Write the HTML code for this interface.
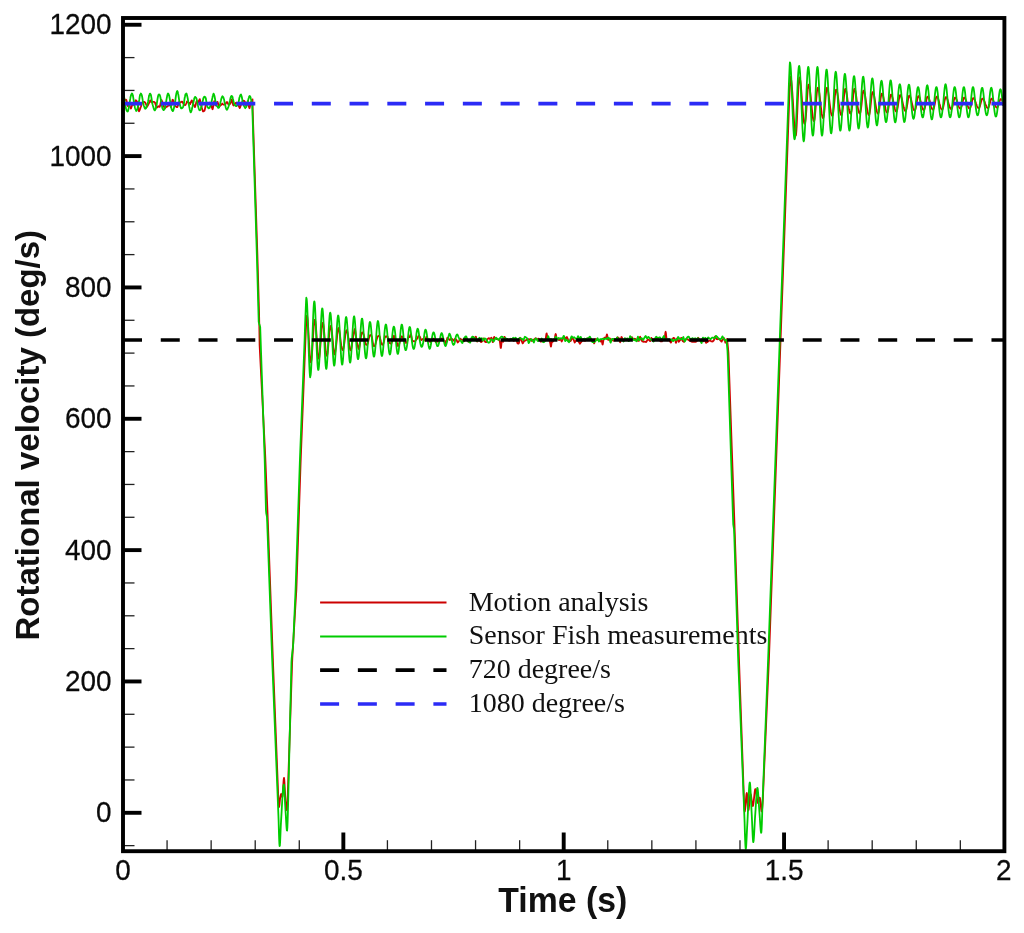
<!DOCTYPE html>
<html lang="en">
<head>
<meta charset="utf-8">
<title>Rotational velocity vs time</title>
<style>
html,body{margin:0;padding:0;background:#fff;}
body{width:1024px;height:933px;overflow:hidden;}
svg{display:block;}
.tl{font-family:"Liberation Sans",Arial,Helvetica,sans-serif;font-size:27.9px;fill:#0a0a0a;stroke:#0a0a0a;stroke-width:0.25px;}
.ax{font-family:"Liberation Sans",Arial,Helvetica,sans-serif;font-weight:bold;font-size:33px;fill:#111;}
.lg{font-family:"Liberation Serif","Times New Roman",Times,serif;font-size:28px;fill:#111;}
</style>
</head>
<body>
<svg width="1024" height="933" viewBox="0 0 1024 933">
<rect x="0" y="0" width="1024" height="933" fill="#ffffff"/>
<!-- legend -->
<g>
<line x1="320.1" y1="602.4" x2="446.5" y2="602.4" stroke="#cc0000" stroke-width="2"/>
<line x1="320.1" y1="636.6" x2="446.5" y2="636.6" stroke="#00cc00" stroke-width="2"/>
<line x1="320.1" y1="670.2" x2="446.5" y2="670.2" stroke="#000" stroke-width="3.7" stroke-dasharray="19 18.76"/>
<line x1="320.1" y1="704.0" x2="446.5" y2="704.0" stroke="#2b2bf6" stroke-width="3.7" stroke-dasharray="19 18.76"/>
<text x="468.7" y="610.8" class="lg">Motion analysis</text>
<text x="468.7" y="644.4" class="lg">Sensor Fish measurements</text>
<text x="468.7" y="678.4" class="lg">720 degree/s</text>
<text x="468.7" y="711.8" class="lg">1080 degree/s</text>
</g>
<!-- data -->
<path d="M123.00,103.46 L123.25,103.00 L123.50,102.51 L123.75,101.99 L124.00,101.45 L124.25,100.89 L124.50,100.33 L124.75,100.02 L125.00,99.88 L125.25,99.77 L125.50,99.69 L125.75,99.64 L126.00,99.64 L126.25,99.85 L126.50,100.74 L126.75,101.69 L127.00,102.70 L127.25,103.75 L127.50,104.85 L127.75,106.00 L128.00,106.01 L128.25,105.76 L128.50,105.54 L128.75,105.33 L129.00,105.12 L129.25,104.91 L129.50,105.05 L129.75,105.72 L130.00,106.36 L130.25,106.96 L130.50,107.52 L130.75,108.03 L131.00,108.48 L131.25,107.80 L131.50,107.06 L131.75,106.27 L132.00,105.43 L132.25,104.55 L132.50,103.63 L132.75,103.44 L133.00,103.75 L133.25,104.05 L133.50,104.33 L133.75,104.62 L134.00,104.93 L134.25,105.00 L134.50,104.10 L134.75,103.24 L135.00,102.42 L135.25,101.65 L135.50,100.94 L135.75,100.27 L136.00,100.33 L136.25,100.61 L136.50,100.94 L136.75,101.31 L137.00,101.72 L137.25,102.17 L137.50,103.02 L137.75,104.43 L138.00,105.86 L138.25,107.29 L138.50,108.70 L138.75,110.09 L139.00,111.46 L139.25,110.95 L139.50,110.40 L139.75,109.80 L140.00,109.15 L140.25,108.45 L140.50,107.69 L140.75,107.00 L141.00,106.33 L141.25,105.61 L141.50,104.86 L141.75,104.07 L142.00,103.25 L142.25,102.56 L142.50,102.42 L142.75,102.29 L143.00,102.16 L143.25,102.05 L143.50,101.97 L143.75,101.93 L144.00,101.92 L144.25,101.96 L144.50,102.05 L144.75,102.19 L145.00,102.39 L145.25,102.64 L145.50,103.02 L145.75,103.57 L146.00,104.16 L146.25,104.78 L146.50,105.44 L146.75,106.11 L147.00,106.79 L147.25,106.38 L147.50,105.97 L147.75,105.54 L148.00,105.08 L148.25,104.59 L148.50,104.06 L148.75,103.60 L149.00,103.16 L149.25,102.67 L149.50,102.12 L149.75,101.53 L150.00,100.88 L150.25,100.41 L150.50,100.82 L150.75,101.19 L151.00,101.53 L151.25,101.85 L151.50,102.16 L151.75,102.46 L152.00,102.38 L152.25,102.22 L152.50,102.08 L152.75,101.97 L153.00,101.90 L153.25,101.88 L153.50,101.87 L153.75,101.86 L154.00,101.91 L154.25,102.01 L154.50,102.17 L154.75,102.37 L155.00,102.61 L155.25,103.36 L155.50,104.15 L155.75,104.95 L156.00,105.77 L156.25,106.59 L156.50,107.40 L156.75,107.64 L157.00,107.49 L157.25,107.31 L157.50,107.08 L157.75,106.81 L158.00,106.50 L158.25,106.25 L158.50,106.46 L158.75,106.62 L159.00,106.72 L159.25,106.78 L159.50,106.79 L159.75,106.76 L160.00,105.88 L160.25,104.78 L160.50,103.67 L160.75,102.55 L161.00,101.44 L161.25,100.34 L161.50,99.91 L161.75,100.50 L162.00,101.13 L162.25,101.80 L162.50,102.52 L162.75,103.29 L163.00,104.11 L163.25,104.68 L163.50,105.29 L163.75,105.96 L164.00,106.67 L164.25,107.42 L164.50,108.21 L164.75,108.37 L165.00,108.11 L165.25,107.87 L165.50,107.62 L165.75,107.35 L166.00,107.07 L166.25,106.83 L166.50,106.82 L166.75,106.77 L167.00,106.67 L167.25,106.51 L167.50,106.31 L167.75,106.05 L168.00,105.88 L168.25,105.70 L168.50,105.47 L168.75,105.20 L169.00,104.90 L169.25,104.57 L169.50,104.52 L169.75,104.89 L170.00,105.27 L170.25,105.66 L170.50,106.07 L170.75,106.51 L171.00,106.99 L171.25,105.67 L171.50,104.40 L171.75,103.18 L172.00,102.01 L172.25,100.90 L172.50,99.84 L172.75,99.72 L173.00,100.25 L173.25,100.81 L173.50,101.41 L173.75,102.04 L174.00,102.69 L174.25,103.32 L174.50,103.87 L174.75,104.41 L175.00,104.94 L175.25,105.43 L175.50,105.89 L175.75,106.31 L176.00,106.59 L176.25,106.79 L176.50,106.94 L176.75,107.04 L177.00,107.08 L177.25,107.07 L177.50,106.77 L177.75,106.05 L178.00,105.30 L178.25,104.52 L178.50,103.73 L178.75,102.92 L179.00,102.11 L179.25,102.12 L179.50,102.15 L179.75,102.20 L180.00,102.29 L180.25,102.42 L180.50,102.60 L180.75,102.48 L181.00,102.20 L181.25,101.97 L181.50,101.79 L181.75,101.67 L182.00,101.59 L182.25,101.64 L182.50,102.05 L182.75,102.50 L183.00,102.96 L183.25,103.44 L183.50,103.92 L183.75,104.39 L184.00,104.63 L184.25,104.78 L184.50,104.91 L184.75,104.99 L185.00,105.03 L185.25,105.02 L185.50,104.83 L185.75,104.40 L186.00,103.91 L186.25,103.37 L186.50,102.78 L186.75,102.15 L187.00,101.48 L187.25,101.68 L187.50,101.86 L187.75,102.02 L188.00,102.18 L188.25,102.35 L188.50,102.53 L188.75,102.68 L189.00,102.83 L189.25,103.01 L189.50,103.23 L189.75,103.51 L190.00,103.84 L190.25,103.98 L190.50,103.26 L190.75,102.59 L191.00,101.97 L191.25,101.39 L191.50,100.85 L191.75,100.34 L192.00,100.72 L192.25,101.34 L192.50,101.95 L192.75,102.57 L193.00,103.17 L193.25,103.75 L193.50,104.32 L193.75,104.91 L194.00,105.45 L194.25,105.94 L194.50,106.38 L194.75,106.77 L195.00,107.11 L195.25,106.27 L195.50,105.39 L195.75,104.47 L196.00,103.50 L196.25,102.50 L196.50,101.48 L196.75,101.20 L197.00,101.42 L197.25,101.64 L197.50,101.87 L197.75,102.13 L198.00,102.41 L198.25,102.52 L198.50,101.83 L198.75,101.19 L199.00,100.59 L199.25,100.06 L199.50,99.57 L199.75,99.14 L200.00,99.92 L200.25,101.03 L200.50,102.19 L200.75,103.38 L201.00,104.59 L201.25,105.82 L201.50,106.88 L201.75,107.69 L202.00,108.48 L202.25,109.26 L202.50,110.01 L202.75,110.72 L203.00,111.39 L203.25,111.39 L203.50,111.34 L203.75,111.24 L204.00,111.08 L204.25,110.88 L204.50,110.62 L204.75,109.82 L205.00,108.65 L205.25,107.45 L205.50,106.22 L205.75,104.97 L206.00,103.72 L206.25,102.73 L206.50,102.83 L206.75,102.96 L207.00,103.11 L207.25,103.29 L207.50,103.52 L207.75,103.79 L208.00,103.58 L208.25,103.29 L208.50,103.06 L208.75,102.87 L209.00,102.74 L209.25,102.66 L209.50,102.71 L209.75,102.96 L210.00,103.23 L210.25,103.52 L210.50,103.83 L210.75,104.13 L211.00,104.42 L211.25,105.32 L211.50,106.19 L211.75,107.02 L212.00,107.82 L212.25,108.56 L212.50,109.26 L212.75,108.82 L213.00,107.59 L213.25,106.31 L213.50,104.98 L213.75,103.60 L214.00,102.18 L214.25,101.16 L214.50,101.88 L214.75,102.59 L215.00,103.28 L215.25,103.97 L215.50,104.67 L215.75,105.38 L216.00,104.95 L216.25,104.25 L216.50,103.60 L216.75,102.98 L217.00,102.42 L217.25,101.91 L217.50,101.89 L217.75,102.57 L218.00,103.30 L218.25,104.08 L218.50,104.90 L218.75,105.76 L219.00,106.65 L219.25,106.43 L219.50,106.22 L219.75,106.02 L220.00,105.81 L220.25,105.58 L220.50,105.33 L220.75,105.14 L221.00,104.98 L221.25,104.77 L221.50,104.51 L221.75,104.20 L222.00,103.83 L222.25,103.56 L222.50,103.86 L222.75,104.10 L223.00,104.30 L223.25,104.46 L223.50,104.59 L223.75,104.70 L224.00,104.63 L224.25,104.51 L224.50,104.40 L224.75,104.30 L225.00,104.22 L225.25,104.17 L225.50,103.97 L225.75,103.52 L226.00,103.11 L226.25,102.76 L226.50,102.46 L226.75,102.21 L227.00,102.02 L227.25,102.36 L227.50,102.74 L227.75,103.17 L228.00,103.62 L228.25,104.11 L228.50,104.60 L228.75,104.73 L229.00,104.62 L229.25,104.48 L229.50,104.33 L229.75,104.15 L230.00,103.93 L230.25,103.62 L230.50,103.06 L230.75,102.44 L231.00,101.78 L231.25,101.06 L231.50,100.28 L231.75,99.46 L232.00,100.16 L232.25,101.21 L232.50,102.22 L232.75,103.22 L233.00,104.19 L233.25,105.16 L233.50,105.59 L233.75,105.21 L234.00,104.84 L234.25,104.51 L234.50,104.21 L234.75,103.95 L235.00,103.74 L235.25,103.44 L235.50,103.19 L235.75,102.99 L236.00,102.84 L236.25,102.75 L236.50,102.70 L236.75,102.81 L237.00,103.03 L237.25,103.28 L237.50,103.55 L237.75,103.83 L238.00,104.11 L238.25,104.46 L238.50,105.15 L238.75,105.81 L239.00,106.44 L239.25,107.03 L239.50,107.56 L239.75,108.05 L240.00,107.66 L240.25,107.00 L240.50,106.29 L240.75,105.53 L241.00,104.72 L241.25,103.88 L241.50,103.20 L241.75,102.82 L242.00,102.41 L242.25,102.00 L242.50,101.58 L242.75,101.17 L243.00,100.78 L243.25,100.74 L243.50,100.74 L243.75,100.77 L244.00,100.85 L244.25,100.98 L244.50,101.17 L244.75,101.62 L245.00,102.28 L245.25,102.98 L245.50,103.73 L245.75,104.53 L246.00,105.36 L246.25,105.88 L246.50,105.09 L246.75,104.32 L247.00,103.54 L247.25,102.76 L247.50,101.96 L247.75,101.13 L248.00,102.02 L248.25,103.29 L248.50,104.53 L248.75,105.71 L249.00,106.84 L249.25,107.92 L249.50,108.19 L249.75,107.31 L250.00,106.37 L250.25,105.39 L250.50,104.37 L250.75,103.32 L251.00,102.26 L251.25,101.75 L251.50,101.25 L251.75,100.75 L252.00,100.26 L252.25,99.80 L252.50,99.37 L252.60,107.56 L252.85,115.24 L253.10,122.92 L253.35,130.60 L253.60,138.28 L253.85,145.96 L254.10,153.64 L254.35,161.32 L254.60,169.00 L254.85,176.67 L255.10,184.35 L255.35,192.03 L255.60,199.71 L255.85,207.39 L256.10,215.07 L256.35,222.75 L256.60,230.43 L256.85,238.11 L257.10,245.79 L257.35,253.46 L257.60,262.00 L257.85,270.75 L258.10,279.50 L258.35,288.25 L258.60,297.00 L258.85,305.75 L259.10,314.50 L259.35,328.13 L259.60,345.00 L259.85,349.91 L260.10,354.82 L260.35,359.73 L260.60,364.64 L260.85,369.55 L261.10,374.46 L261.35,379.38 L261.60,384.29 L261.85,389.20 L262.10,394.11 L262.35,399.02 L262.60,403.93 L262.85,408.84 L263.10,413.75 L263.35,418.66 L263.60,423.57 L263.85,428.48 L264.10,433.39 L264.35,438.30 L264.60,443.21 L264.85,448.13 L265.10,453.04 L265.35,458.75 L265.60,465.00 L265.85,471.25 L266.10,477.50 L266.35,483.75 L266.60,490.00 L266.85,496.25 L267.10,502.50 L267.35,508.75 L267.60,515.00 L267.85,521.84 L268.10,528.68 L268.35,535.52 L268.60,542.36 L268.85,549.20 L269.10,556.04 L269.35,562.88 L269.60,569.72 L269.85,576.56 L270.10,583.40 L270.35,590.24 L270.60,597.08 L270.85,603.92 L271.10,610.75 L271.35,617.59 L271.60,624.43 L271.85,631.27 L272.10,638.11 L272.35,644.95 L272.60,651.79 L272.85,658.63 L273.10,665.10 L273.35,671.47 L273.60,677.84 L273.85,684.22 L274.10,690.59 L274.35,696.96 L274.60,703.33 L274.85,709.71 L275.10,716.08 L275.35,722.45 L275.60,728.82 L275.85,735.20 L276.10,741.57 L276.35,747.94 L276.60,754.31 L276.85,760.69 L277.10,767.06 L277.35,773.43 L277.60,779.80 L277.85,786.18 L278.00,790.00 L278.25,796.61 L278.50,802.02 L278.75,805.66 L279.00,807.00 L279.25,806.20 L279.50,804.24 L279.75,801.76 L280.00,799.38 L280.25,797.74 L280.50,796.38 L280.75,795.13 L281.00,794.25 L281.25,794.02 L281.50,794.55 L281.75,795.50 L282.00,796.45 L282.25,796.98 L282.50,796.27 L282.75,793.71 L283.00,789.99 L283.25,785.83 L283.50,781.96 L283.75,779.11 L284.00,778.00 L284.25,779.48 L284.50,783.18 L284.75,788.00 L285.00,792.84 L285.25,796.67 L285.50,800.40 L285.75,804.25 L286.00,807.54 L286.25,809.61 L286.50,809.94 L286.75,809.27 L287.00,807.75 L287.25,805.28 L287.50,801.74 L287.60,800.00 L287.85,792.39 L288.10,784.78 L288.35,777.17 L288.60,769.57 L288.85,761.96 L289.10,754.35 L289.35,746.74 L289.60,739.13 L289.85,731.52 L290.10,723.91 L290.35,716.30 L290.60,708.70 L290.85,701.09 L291.10,693.48 L291.35,685.87 L291.60,678.26 L291.85,670.65 L292.10,663.04 L292.35,657.46 L292.60,653.24 L292.85,649.01 L293.10,644.79 L293.35,640.56 L293.60,636.33 L293.85,632.11 L294.10,627.88 L294.35,623.65 L294.60,619.43 L294.85,615.20 L295.10,610.98 L295.35,606.75 L295.60,602.52 L295.85,598.30 L296.10,594.07 L296.35,589.85 L296.60,583.00 L296.85,575.50 L297.10,568.00 L297.35,560.50 L297.60,553.00 L297.85,545.50 L298.10,538.00 L298.35,530.50 L298.60,523.00 L298.85,515.50 L299.10,508.00 L299.35,500.50 L299.60,493.00 L299.85,485.50 L300.10,478.00 L300.35,470.50 L300.60,463.00 L300.85,456.20 L301.10,449.88 L301.35,443.55 L301.60,437.22 L301.85,430.90 L302.10,424.57 L302.35,418.24 L302.60,411.92 L302.85,405.59 L303.10,399.27 L303.35,392.94 L303.60,386.61 L303.85,380.29 L304.10,373.96 L304.35,367.63 L304.60,361.31 L304.85,354.98 L305.10,348.65 L305.35,342.33 L305.60,336.00 L305.85,330.05 L306.10,325.09 L306.35,321.33 L306.60,318.01 L306.85,316.07 L306.90,315.59 L307.15,316.23 L307.40,317.77 L307.65,320.15 L307.90,323.26 L308.15,326.99 L308.40,331.19 L308.65,335.68 L308.90,340.30 L309.15,344.87 L309.40,349.20 L309.65,353.11 L309.90,356.46 L310.15,359.14 L310.40,361.07 L310.65,362.17 L310.90,362.37 L311.15,361.65 L311.40,360.11 L311.65,357.80 L311.90,354.83 L312.15,351.34 L312.40,347.56 L312.65,343.51 L312.90,339.37 L313.15,335.30 L313.40,331.46 L313.65,327.96 L313.90,324.97 L314.15,322.59 L314.40,320.93 L314.65,320.02 L314.90,319.83 L315.15,320.40 L315.40,321.74 L315.65,323.76 L315.90,326.38 L316.15,329.58 L316.40,333.20 L316.65,337.04 L316.90,340.95 L317.15,344.79 L317.40,348.37 L317.65,351.54 L317.90,354.24 L318.15,356.35 L318.40,357.82 L318.65,358.57 L318.90,358.59 L319.15,357.89 L319.40,356.49 L319.65,354.46 L319.90,351.89 L320.15,348.91 L320.40,345.60 L320.65,342.11 L320.90,338.56 L321.15,335.10 L321.40,331.88 L321.65,329.02 L321.90,326.60 L322.15,324.73 L322.40,323.47 L322.65,322.84 L322.90,322.86 L323.15,323.54 L323.40,324.85 L323.65,326.74 L323.90,329.10 L324.15,331.83 L324.40,334.84 L324.65,338.02 L324.90,341.23 L325.15,344.36 L325.40,347.33 L325.65,349.97 L325.90,352.19 L326.15,353.91 L326.40,355.06 L326.65,355.74 L326.90,355.80 L327.15,355.26 L327.40,354.15 L327.65,352.52 L327.90,350.25 L328.15,347.58 L328.40,344.65 L328.65,341.58 L328.90,338.49 L329.15,335.59 L329.40,332.96 L329.65,330.65 L329.90,328.73 L330.15,327.29 L330.40,326.36 L330.65,325.97 L330.90,326.14 L331.15,326.87 L331.40,328.14 L331.65,329.85 L331.90,331.88 L332.15,334.22 L332.40,336.78 L332.65,339.46 L332.90,342.15 L333.15,345.02 L333.40,347.70 L333.65,350.10 L333.90,352.12 L334.15,353.70 L334.40,354.30 L334.65,354.25 L334.90,353.66 L335.15,352.56 L335.40,350.97 L335.65,349.33 L335.90,347.60 L336.15,345.58 L336.40,343.37 L336.65,341.07 L336.90,338.62 L337.15,336.03 L337.40,333.62 L337.65,331.49 L337.90,329.71 L338.15,328.44 L338.40,328.02 L338.65,328.08 L338.90,328.62 L339.15,329.64 L339.40,331.11 L339.65,332.60 L339.90,334.42 L340.15,336.50 L340.40,338.74 L340.65,341.06 L340.90,342.92 L341.15,344.55 L341.40,345.99 L341.65,347.16 L341.90,347.98 L342.15,348.89 L342.40,349.70 L342.65,350.06 L342.90,349.99 L343.15,349.49 L343.40,348.63 L343.65,347.50 L343.90,346.07 L344.15,344.42 L344.40,342.63 L344.65,340.72 L344.90,338.61 L345.15,336.60 L345.40,334.77 L345.65,333.19 L345.90,331.91 L346.15,330.96 L346.40,330.40 L346.65,330.25 L346.90,330.50 L347.15,331.14 L347.40,332.03 L347.65,333.22 L347.90,334.66 L348.15,336.31 L348.40,338.08 L348.65,340.06 L348.90,342.13 L349.15,344.10 L349.40,345.90 L349.65,347.46 L349.90,348.72 L350.15,349.59 L350.40,350.11 L350.65,350.26 L350.90,350.03 L351.15,349.40 L351.40,348.29 L351.65,346.87 L351.90,345.22 L352.15,343.39 L352.40,341.44 L352.65,339.86 L352.90,338.30 L353.15,336.85 L353.40,335.56 L353.65,334.50 L353.90,332.92 L354.15,331.44 L354.40,330.28 L354.65,329.47 L354.90,328.99 L355.15,329.69 L355.40,331.27 L355.65,333.12 L355.90,335.19 L356.15,337.43 L356.40,339.34 L356.65,340.63 L356.90,341.88 L357.15,343.03 L357.40,344.01 L357.65,344.97 L357.90,346.39 L358.15,347.52 L358.40,348.35 L358.65,348.87 L358.90,349.08 L359.15,348.19 L359.40,347.02 L359.65,345.62 L359.90,344.01 L360.15,342.27 L360.40,340.54 L360.65,338.82 L360.90,337.13 L361.15,335.54 L361.40,334.09 L361.65,333.15 L361.90,332.64 L362.15,332.41 L362.40,332.46 L362.65,332.80 L362.90,333.17 L363.15,333.40 L363.40,333.88 L363.65,334.57 L363.90,335.43 L364.15,336.48 L364.40,337.88 L364.65,339.30 L364.90,340.68 L365.15,341.97 L365.40,343.11 L365.65,343.89 L365.90,344.44 L366.15,344.74 L366.40,344.78 L366.65,344.55 L366.90,344.56 L367.15,344.45 L367.40,344.11 L367.65,343.58 L367.90,342.89 L368.15,341.92 L368.40,340.77 L368.65,339.61 L368.90,338.49 L369.15,337.46 L369.40,336.57 L369.65,335.85 L369.90,335.34 L370.15,335.06 L370.40,335.02 L370.65,335.13 L370.90,335.09 L371.15,335.29 L371.40,335.69 L371.65,336.27 L371.90,336.99 L372.15,338.48 L372.40,340.03 L372.65,341.57 L372.90,343.08 L373.15,344.50 L373.40,345.28 L373.65,345.76 L373.90,346.06 L374.15,346.14 L374.40,345.99 L374.65,345.78 L374.90,345.45 L375.15,344.91 L375.40,344.18 L375.65,343.29 L375.90,342.36 L376.15,341.49 L376.40,340.58 L376.65,339.66 L376.90,338.79 L377.15,337.99 L377.40,337.27 L377.65,336.71 L377.90,336.32 L378.15,336.14 L378.40,336.16 L378.65,335.84 L378.90,335.74 L379.15,335.82 L379.40,336.07 L379.65,336.47 L379.90,337.32 L380.15,338.34 L380.40,339.39 L380.65,340.43 L380.90,341.44 L381.15,342.35 L381.40,343.15 L381.65,343.81 L381.90,344.30 L382.15,344.61 L382.40,344.74 L382.65,344.71 L382.90,344.49 L383.15,344.09 L383.40,343.54 L383.65,342.79 L383.90,341.66 L384.15,340.46 L384.40,339.24 L384.65,338.02 L384.90,336.85 L385.15,336.59 L385.40,336.45 L385.65,336.44 L385.90,336.58 L386.15,336.89 L386.40,336.61 L386.65,336.31 L386.90,336.18 L387.15,336.21 L387.40,336.38 L387.65,337.07 L387.90,338.11 L388.15,339.20 L388.40,340.31 L388.65,341.42 L388.90,342.23 L389.15,342.60 L389.40,342.87 L389.65,343.00 L389.90,343.00 L390.15,342.98 L390.40,343.36 L390.65,343.58 L390.90,343.65 L391.15,343.57 L391.40,343.36 L391.65,342.72 L391.90,341.99 L392.15,341.22 L392.40,340.43 L392.65,339.66 L392.90,338.73 L393.15,337.82 L393.40,337.01 L393.65,336.32 L393.90,335.77 L394.15,335.92 L394.40,336.60 L394.65,337.43 L394.90,338.40 L395.15,339.51 L395.40,340.25 L395.65,340.39 L395.90,340.59 L396.15,340.84 L396.40,341.10 L396.65,341.52 L396.90,342.60 L397.15,343.62 L397.40,344.54 L397.65,345.36 L397.90,346.04 L398.15,345.96 L398.40,345.73 L398.65,345.37 L398.90,344.87 L399.15,344.25 L399.40,343.35 L399.65,342.31 L399.90,341.21 L400.15,340.08 L400.40,338.93 L400.65,338.13 L400.90,337.60 L401.15,337.12 L401.40,336.73 L401.65,336.45 L401.90,336.35 L402.15,336.46 L402.40,336.70 L402.65,337.06 L402.90,337.55 L403.15,338.08 L403.40,338.43 L403.65,338.85 L403.90,339.32 L404.15,339.83 L404.40,340.35 L404.65,340.95 L404.90,341.51 L405.15,342.01 L405.40,342.43 L405.65,342.75 L405.90,342.89 L406.15,342.90 L406.40,342.78 L406.65,342.56 L406.90,342.22 L407.15,341.57 L407.40,340.71 L407.65,339.77 L407.90,338.79 L408.15,337.79 L408.40,337.13 L408.65,337.03 L408.90,336.98 L409.15,336.98 L409.40,337.05 L409.65,337.01 L409.90,336.25 L410.15,335.59 L410.40,335.04 L410.65,334.60 L410.90,334.25 L411.15,335.32 L411.40,336.47 L411.65,337.68 L411.90,338.93 L412.15,340.20 L412.40,340.62 L412.65,340.81 L412.90,340.97 L413.15,341.06 L413.40,341.09 L413.65,341.22 L413.90,341.39 L414.15,341.46 L414.40,341.43 L414.65,341.30 L414.90,341.14 L415.15,340.98 L415.40,340.75 L415.65,340.46 L415.90,340.14 L416.15,339.80 L416.40,339.46 L416.65,339.13 L416.90,338.85 L417.15,338.61 L417.40,338.45 L417.65,337.73 L417.90,337.09 L418.15,336.55 L418.40,336.10 L418.65,335.73 L418.90,335.77 L419.15,335.97 L419.40,336.23 L419.65,336.54 L419.90,336.88 L420.15,337.40 L420.40,338.05 L420.65,338.67 L420.90,339.25 L421.15,339.79 L421.40,340.07 L421.65,339.99 L421.90,339.84 L422.15,339.59 L422.40,339.27 L422.65,338.98 L422.90,339.08 L423.15,339.12 L423.40,339.11 L423.65,339.05 L423.90,338.96 L424.15,339.28 L424.40,339.61 L424.65,339.96 L424.90,340.35 L425.15,340.78 L425.40,340.07 L425.65,339.12 L425.90,338.25 L426.15,337.46 L426.40,336.74 L426.65,336.86 L426.90,337.55 L427.15,338.29 L427.40,339.09 L427.65,339.93 L427.90,340.36 L428.15,340.16 L428.40,339.95 L428.65,339.72 L428.90,339.46 L429.15,339.36 L429.40,340.07 L429.65,340.71 L429.90,341.28 L430.15,341.78 L430.40,342.21 L430.65,341.91 L430.90,341.55 L431.15,341.13 L431.40,340.67 L431.65,340.17 L431.90,339.85 L432.15,339.58 L432.40,339.31 L432.65,339.06 L432.90,338.84 L433.15,338.73 L433.40,338.71 L433.65,338.75 L433.90,338.86 L434.15,339.03 L434.40,339.33 L434.65,339.79 L434.90,340.31 L435.15,340.87 L435.40,341.48 L435.65,341.96 L435.90,341.83 L436.15,341.70 L436.40,341.56 L436.65,341.41 L436.90,341.23 L437.15,341.43 L437.40,341.59 L437.65,341.69 L437.90,341.74 L438.15,341.72 L438.40,341.41 L438.65,340.98 L438.90,340.50 L439.15,339.97 L439.40,339.40 L439.65,339.27 L439.90,339.43 L440.15,339.58 L440.40,339.74 L440.65,339.92 L440.90,339.85 L441.15,339.41 L441.40,339.01 L441.65,338.66 L441.90,338.37 L442.15,338.24 L442.40,338.61 L442.65,339.03 L442.90,339.50 L443.15,340.01 L443.40,340.55 L443.65,340.55 L443.90,340.57 L444.15,340.59 L444.40,340.60 L444.65,340.59 L444.90,341.18 L445.15,341.87 L445.40,342.53 L445.65,343.14 L445.90,343.70 L446.15,343.26 L446.40,342.12 L446.65,340.94 L446.90,339.72 L447.15,338.46 L447.40,337.79 L447.65,338.04 L447.90,338.28 L448.15,338.52 L448.40,338.76 L448.65,338.99 L448.90,339.14 L449.15,339.31 L449.40,339.52 L449.65,339.78 L449.90,340.08 L450.15,339.74 L450.40,339.44 L450.65,339.19 L450.90,338.97 L451.15,338.79 L451.40,338.82 L451.65,338.91 L451.90,339.01 L452.15,339.12 L452.40,339.21 L452.65,339.45 L452.90,339.79 L453.15,340.09 L453.40,340.35 L453.65,340.58 L453.90,340.57 L454.15,340.23 L454.40,339.85 L454.65,339.44 L454.90,338.98 L455.15,338.65 L455.40,338.89 L455.65,339.12 L455.90,339.34 L456.15,339.56 L456.40,339.79 L456.65,340.28 L456.90,340.78 L457.15,341.32 L457.40,341.89 L457.65,342.49 L457.90,342.31 L458.15,341.95 L458.40,341.63 L458.65,341.35 L458.90,341.10 L459.15,340.72 L459.40,340.24 L459.65,339.78 L459.90,339.32 L460.15,338.87 L460.40,338.69 L460.65,338.93 L460.90,339.14 L461.15,339.33 L461.40,339.49 L461.65,339.63 L461.90,339.78 L462.15,339.89 L462.40,339.97 L462.65,340.02 L462.90,340.04 L463.15,340.30 L463.40,340.54 L463.65,340.78 L463.90,341.00 L464.15,341.23 L464.40,340.72 L464.65,340.04 L464.90,339.38 L465.15,338.74 L465.40,338.14 L465.65,337.90 L465.90,337.93 L466.15,337.99 L466.40,338.08 L466.65,338.20 L466.90,338.52 L467.15,339.11 L467.40,339.71 L467.65,340.33 L467.90,340.95 L468.15,341.47 L468.40,341.62 L468.65,341.76 L468.90,341.87 L469.15,341.97 L469.40,342.03 L469.65,341.71 L469.90,341.36 L470.15,340.98 L470.40,340.57 L470.65,340.13 L470.90,339.79 L471.15,339.45 L471.40,339.09 L471.65,338.73 L471.90,338.36 L472.15,338.05 L472.40,337.79 L472.65,337.53 L472.90,337.30 L473.15,337.09 L473.40,337.05 L473.65,337.26 L473.90,337.50 L474.15,337.77 L474.40,338.07 L474.65,338.25 L474.90,337.91 L475.15,337.58 L475.40,337.27 L475.65,336.97 L475.90,336.67 L476.15,337.66 L476.40,338.65 L476.65,339.63 L476.90,340.59 L477.15,341.52 L477.40,341.43 L477.65,341.06 L477.90,340.67 L478.15,340.24 L478.40,339.80 L478.65,339.76 L478.90,339.98 L479.15,340.20 L479.40,340.40 L479.65,340.59 L479.90,340.81 L480.15,341.09 L480.40,341.37 L480.65,341.66 L480.90,341.97 L481.15,342.18 L481.40,341.94 L481.65,341.71 L481.90,341.51 L482.15,341.34 L482.40,341.18 L482.65,340.58 L482.90,340.00 L483.15,339.43 L483.40,338.87 L483.65,338.32 L483.90,338.77 L484.15,339.47 L484.40,340.16 L484.65,340.84 L484.90,341.50 L485.15,341.85 L485.40,341.97 L485.65,342.07 L485.90,342.15 L486.15,342.21 L486.40,342.00 L486.65,341.38 L486.90,340.75 L487.15,340.11 L487.40,339.45 L487.65,338.89 L487.90,338.72 L488.15,338.56 L488.40,338.40 L488.65,338.25 L488.90,338.12 L489.15,338.31 L489.40,338.52 L489.65,338.74 L489.90,338.99 L490.15,339.26 L490.40,339.01 L490.65,338.64 L490.90,338.29 L491.15,337.94 L491.40,337.61 L491.65,338.07 L491.90,339.06 L492.15,340.04 L492.40,341.02 L492.65,341.98 L492.90,342.13 L493.15,341.06 L493.40,339.98 L493.65,338.87 L493.90,337.75 L494.15,336.90 L494.40,337.23 L494.65,337.55 L494.90,337.85 L495.15,338.15 L495.40,338.43 L495.65,338.58 L495.90,338.73 L496.15,338.88 L496.40,339.04 L496.65,339.21 L496.90,339.21 L497.15,339.18 L497.40,339.17 L497.65,339.17 L497.90,339.19 L498.15,339.28 L498.40,339.44 L498.65,339.61 L498.90,339.79 L499.15,340.01 L499.40,340.28 L499.65,340.76 L499.90,341.81 L500.15,343.65 L500.40,346.00 L500.65,347.81 L500.90,347.91 L501.15,346.30 L501.40,343.94 L501.65,341.93 L501.90,340.70 L502.15,340.61 L502.40,340.82 L502.65,341.12 L502.90,341.44 L503.15,341.76 L503.40,341.01 L503.65,339.98 L503.90,338.96 L504.15,337.94 L504.40,336.93 L504.65,336.86 L504.90,337.43 L505.15,338.02 L505.40,338.61 L505.65,339.22 L505.90,339.52 L506.15,339.34 L506.40,339.17 L506.65,339.01 L506.90,338.86 L507.15,338.81 L507.40,339.13 L507.65,339.45 L507.90,339.76 L508.15,340.07 L508.40,340.38 L508.65,340.46 L508.90,340.53 L509.15,340.58 L509.40,340.62 L509.65,340.65 L509.90,340.39 L510.15,340.04 L510.40,339.68 L510.65,339.30 L510.90,338.92 L511.15,338.78 L511.40,338.79 L511.65,338.80 L511.90,338.81 L512.15,338.83 L512.40,338.99 L512.65,339.35 L512.90,339.73 L513.15,340.11 L513.40,340.51 L513.65,340.82 L513.90,340.70 L514.15,340.59 L514.40,340.50 L514.65,340.41 L514.90,340.34 L515.15,340.10 L515.40,339.86 L515.65,339.62 L515.90,339.39 L516.15,339.15 L516.40,339.77 L516.65,340.59 L516.90,341.41 L517.15,342.22 L517.40,343.02 L517.65,343.38 L517.90,343.45 L518.15,343.50 L518.40,343.55 L518.65,343.59 L518.90,343.15 L519.15,342.01 L519.40,340.87 L519.65,339.72 L519.90,338.58 L520.15,337.76 L520.40,338.22 L520.65,338.69 L520.90,339.17 L521.15,339.66 L521.40,340.16 L521.65,340.79 L521.90,341.44 L522.15,342.10 L522.40,342.76 L522.65,343.44 L522.90,343.21 L523.15,342.76 L523.40,342.32 L523.65,341.87 L523.90,341.42 L524.15,341.18 L524.40,341.05 L524.65,340.93 L524.90,340.79 L525.15,340.65 L525.40,340.51 L525.65,340.38 L525.90,340.25 L526.15,340.11 L526.40,339.95 L526.65,339.80 L526.90,339.66 L527.15,339.52 L527.40,339.38 L527.65,339.23 L527.90,339.09 L528.15,339.14 L528.40,339.20 L528.65,339.26 L528.90,339.33 L529.15,339.41 L529.40,339.35 L529.65,339.25 L529.90,339.17 L530.15,339.09 L530.40,339.02 L530.65,339.23 L530.90,339.65 L531.15,340.06 L531.40,340.48 L531.65,340.90 L531.90,341.03 L532.15,340.74 L532.40,340.45 L532.65,340.15 L532.90,339.84 L533.15,339.58 L533.40,339.58 L533.65,339.56 L533.90,339.54 L534.15,339.51 L534.40,339.47 L534.65,339.22 L534.90,338.96 L535.15,338.71 L535.40,338.45 L535.65,338.19 L535.90,338.37 L536.15,338.67 L536.40,338.97 L536.65,339.27 L536.90,339.59 L537.15,339.56 L537.40,339.31 L537.65,339.07 L537.90,338.84 L538.15,338.62 L538.40,338.58 L538.65,338.81 L538.90,339.05 L539.15,339.29 L539.40,339.53 L539.65,339.81 L539.90,340.19 L540.15,340.58 L540.40,340.96 L540.65,341.34 L540.90,341.71 L541.15,341.52 L541.40,341.33 L541.65,341.13 L541.90,340.93 L542.15,340.71 L542.40,340.68 L542.65,340.70 L542.90,340.71 L543.15,340.71 L543.40,340.72 L543.65,340.68 L543.90,340.60 L544.15,340.53 L544.40,340.46 L544.65,340.39 L544.90,340.30 L545.15,340.14 L545.40,339.79 L545.65,339.03 L545.90,337.59 L546.15,335.62 L546.40,333.89 L546.65,333.39 L546.90,334.42 L547.15,336.30 L547.40,338.03 L547.65,339.08 L547.90,339.54 L548.15,339.67 L548.40,339.68 L548.65,339.65 L548.90,339.91 L549.15,340.23 L549.40,340.57 L549.65,341.01 L549.90,341.77 L550.15,342.64 L550.40,343.96 L550.65,345.65 L550.90,346.60 L551.15,345.86 L551.40,344.04 L551.65,342.46 L551.90,341.40 L552.15,341.15 L552.40,341.46 L552.65,341.82 L552.90,341.41 L553.15,341.02 L553.40,340.64 L553.65,340.27 L553.90,339.89 L554.15,339.65 L554.40,339.32 L554.65,338.75 L554.90,337.72 L555.15,336.18 L555.40,334.76 L555.65,334.05 L555.90,334.51 L556.15,335.91 L556.40,337.47 L556.65,338.53 L556.90,339.01 L557.15,339.16 L557.40,339.16 L557.65,339.12 L557.90,339.17 L558.15,339.40 L558.40,339.62 L558.65,339.84 L558.90,340.06 L559.15,340.18 L559.40,339.90 L559.65,339.63 L559.90,339.35 L560.15,339.08 L560.40,338.81 L560.65,339.33 L560.90,339.86 L561.15,340.39 L561.40,340.93 L561.65,341.47 L561.90,341.14 L562.15,340.60 L562.40,340.06 L562.65,339.52 L562.90,338.99 L563.15,338.53 L563.40,338.13 L563.65,337.72 L563.90,337.31 L564.15,336.90 L564.40,336.83 L564.65,337.29 L564.90,337.74 L565.15,338.19 L565.40,338.63 L565.65,338.91 L565.90,338.53 L566.15,338.15 L566.40,337.77 L566.65,337.38 L566.90,336.99 L567.15,337.54 L567.40,338.09 L567.65,338.64 L567.90,339.18 L568.15,339.74 L568.40,340.09 L568.65,340.40 L568.90,340.71 L569.15,341.02 L569.40,341.34 L569.65,341.40 L569.90,341.29 L570.15,341.18 L570.40,341.08 L570.65,340.97 L570.90,340.69 L571.15,340.14 L571.40,339.59 L571.65,339.03 L571.90,338.48 L572.15,338.07 L572.40,338.24 L572.65,338.42 L572.90,338.59 L573.15,338.76 L573.40,338.92 L573.65,339.65 L573.90,340.38 L574.15,341.10 L574.40,341.82 L574.65,342.54 L574.90,342.33 L575.15,341.89 L575.40,341.45 L575.65,341.01 L575.90,340.58 L576.15,340.34 L576.40,340.24 L576.65,340.14 L576.90,340.04 L577.15,339.95 L577.40,340.02 L577.65,340.33 L577.90,340.64 L578.15,340.95 L578.40,341.27 L578.65,341.61 L578.90,342.02 L579.15,342.44 L579.40,342.86 L579.65,343.28 L579.90,343.70 L580.15,343.38 L580.40,343.05 L580.65,342.73 L580.90,342.40 L581.15,342.07 L581.40,341.73 L581.65,341.39 L581.90,341.05 L582.15,340.71 L582.40,340.36 L582.65,340.25 L582.90,340.30 L583.15,340.35 L583.40,340.39 L583.65,340.44 L583.90,340.50 L584.15,340.56 L584.40,340.63 L584.65,340.70 L584.90,340.77 L585.15,340.76 L585.40,340.40 L585.65,340.05 L585.90,339.71 L586.15,339.36 L586.40,339.02 L586.65,338.90 L586.90,338.79 L587.15,338.67 L587.40,338.56 L587.65,338.44 L587.90,338.68 L588.15,339.01 L588.40,339.34 L588.65,339.67 L588.90,339.99 L589.15,339.95 L589.40,339.66 L589.65,339.37 L589.90,339.07 L590.15,338.77 L590.40,338.69 L590.65,338.94 L590.90,339.18 L591.15,339.42 L591.40,339.66 L591.65,339.87 L591.90,339.90 L592.15,339.94 L592.40,339.98 L592.65,340.02 L592.90,340.06 L593.15,340.71 L593.40,341.36 L593.65,342.01 L593.90,342.66 L594.15,343.32 L594.40,342.72 L594.65,341.81 L594.90,340.90 L595.15,339.99 L595.40,339.08 L595.65,338.85 L595.90,339.07 L596.15,339.29 L596.40,339.51 L596.65,339.72 L596.90,339.84 L597.15,339.83 L597.40,339.82 L597.65,339.80 L597.90,339.78 L598.15,339.80 L598.40,339.97 L598.65,340.13 L598.90,340.29 L599.15,340.45 L599.40,340.62 L599.65,340.78 L599.90,340.95 L600.15,341.12 L600.40,341.29 L600.65,341.46 L600.90,341.15 L601.15,340.77 L601.40,340.55 L601.65,340.69 L601.90,341.40 L602.15,342.79 L602.40,344.13 L602.65,344.45 L602.90,343.47 L603.15,341.77 L603.40,340.15 L603.65,339.02 L603.90,338.38 L604.15,338.02 L604.40,337.75 L604.65,337.60 L604.90,337.81 L605.15,338.01 L605.40,338.19 L605.65,338.28 L605.90,338.12 L606.15,337.66 L606.40,336.57 L606.65,335.19 L606.90,334.40 L607.15,334.96 L607.40,336.33 L607.65,337.97 L607.90,339.21 L608.15,339.80 L608.40,339.95 L608.65,339.79 L608.90,339.51 L609.15,339.20 L609.40,338.90 L609.65,338.60 L609.90,338.49 L610.15,338.69 L610.40,338.88 L610.65,339.07 L610.90,339.27 L611.15,339.45 L611.40,339.57 L611.65,339.69 L611.90,339.82 L612.15,339.94 L612.40,340.06 L612.65,340.20 L612.90,340.34 L613.15,340.47 L613.40,340.61 L613.65,340.74 L613.90,340.51 L614.15,340.19 L614.40,339.86 L614.65,339.54 L614.90,339.21 L615.15,339.14 L615.40,339.23 L615.65,339.32 L615.90,339.42 L616.15,339.51 L616.40,339.38 L616.65,338.93 L616.90,338.48 L617.15,338.03 L617.40,337.58 L617.65,337.26 L617.90,337.45 L618.15,337.65 L618.40,337.85 L618.65,338.05 L618.90,338.25 L619.15,339.05 L619.40,339.86 L619.65,340.66 L619.90,341.47 L620.15,342.27 L620.40,341.56 L620.65,340.46 L620.90,339.36 L621.15,338.26 L621.40,337.16 L621.65,337.04 L621.90,337.57 L622.15,338.10 L622.40,338.63 L622.65,339.16 L622.90,339.53 L623.15,339.69 L623.40,339.84 L623.65,340.00 L623.90,340.15 L624.15,340.24 L624.40,340.07 L624.65,339.90 L624.90,339.73 L625.15,339.55 L625.40,339.39 L625.65,339.26 L625.90,339.14 L626.15,339.02 L626.40,338.90 L626.65,338.78 L626.90,338.94 L627.15,339.16 L627.40,339.38 L627.65,339.60 L627.90,339.82 L628.15,339.92 L628.40,339.94 L628.65,339.96 L628.90,339.97 L629.15,339.99 L629.40,339.99 L629.65,339.96 L629.90,339.93 L630.15,339.91 L630.40,339.88 L630.65,339.75 L630.90,339.23 L631.15,338.71 L631.40,338.18 L631.65,337.66 L631.90,337.14 L632.15,337.64 L632.40,338.13 L632.65,338.63 L632.90,339.13 L633.15,339.63 L633.40,339.57 L633.65,339.37 L633.90,339.17 L634.15,338.97 L634.40,338.77 L634.65,338.74 L634.90,338.84 L635.15,338.93 L635.40,339.02 L635.65,339.12 L635.90,339.26 L636.15,339.49 L636.40,339.71 L636.65,339.94 L636.90,340.16 L637.15,340.36 L637.40,340.48 L637.65,340.60 L637.90,340.71 L638.15,340.83 L638.40,340.92 L638.65,340.92 L638.90,340.74 L639.15,340.24 L639.40,339.30 L639.65,338.18 L639.90,337.06 L640.15,336.76 L640.40,337.29 L640.65,338.08 L640.90,338.60 L641.15,339.19 L641.40,339.79 L641.65,340.26 L641.90,340.69 L642.15,341.11 L642.40,341.38 L642.65,341.46 L642.90,341.54 L643.15,341.61 L643.40,341.69 L643.65,341.75 L643.90,341.74 L644.15,341.73 L644.40,341.72 L644.65,341.71 L644.90,341.70 L645.15,341.77 L645.40,341.85 L645.65,341.92 L645.90,341.99 L646.15,342.06 L646.40,341.71 L646.65,341.27 L646.90,340.82 L647.15,340.37 L647.40,339.93 L647.65,339.74 L647.90,339.73 L648.15,339.72 L648.40,339.71 L648.65,339.70 L648.90,339.81 L649.15,340.10 L649.40,340.39 L649.65,340.68 L649.90,340.97 L650.15,341.08 L650.40,340.45 L650.65,339.82 L650.90,339.19 L651.15,338.56 L651.40,337.94 L651.65,338.39 L651.90,338.85 L652.15,339.31 L652.40,339.76 L652.65,340.22 L652.90,340.14 L653.15,339.92 L653.40,339.71 L653.65,339.49 L653.90,339.28 L654.15,339.22 L654.40,339.26 L654.65,339.30 L654.90,339.35 L655.15,339.39 L655.40,339.26 L655.65,338.86 L655.90,338.46 L656.15,338.06 L656.40,337.66 L656.65,337.40 L656.90,337.64 L657.15,337.89 L657.40,338.14 L657.65,338.38 L657.90,338.63 L658.15,338.88 L658.40,339.14 L658.65,339.39 L658.90,339.65 L659.15,339.90 L659.40,340.16 L659.65,340.43 L659.90,340.69 L660.15,340.96 L660.40,341.22 L660.65,341.34 L660.90,341.37 L661.15,341.40 L661.40,341.43 L661.65,341.45 L661.90,341.35 L662.15,341.03 L662.40,340.72 L662.65,340.41 L662.90,340.10 L663.15,339.84 L663.40,339.81 L663.65,339.77 L663.90,339.72 L664.15,339.61 L664.40,339.31 L664.65,338.38 L664.90,336.73 L665.15,334.49 L665.40,332.49 L665.65,331.79 L665.90,333.18 L666.15,335.59 L666.40,337.83 L666.65,339.34 L666.90,340.22 L667.15,340.42 L667.40,340.28 L667.65,340.10 L667.90,339.92 L668.15,339.73 L668.40,339.72 L668.65,339.96 L668.90,340.21 L669.15,340.45 L669.40,340.70 L669.65,340.96 L669.90,341.29 L670.15,341.62 L670.40,341.94 L670.65,342.27 L670.90,342.60 L671.15,342.08 L671.40,341.57 L671.65,341.05 L671.90,340.53 L672.15,340.02 L672.40,339.58 L672.65,339.16 L672.90,338.73 L673.15,338.31 L673.40,337.89 L673.65,337.83 L673.90,338.02 L674.15,338.21 L674.40,338.42 L674.65,338.70 L674.90,339.04 L675.15,339.59 L675.40,340.68 L675.65,342.00 L675.90,342.84 L676.15,342.59 L676.40,341.50 L676.65,340.08 L676.90,339.00 L677.15,338.45 L677.40,338.28 L677.65,338.93 L677.90,339.63 L678.15,340.35 L678.40,341.07 L678.65,341.79 L678.90,341.68 L679.15,341.37 L679.40,341.06 L679.65,340.74 L679.90,340.43 L680.15,340.00 L680.40,339.50 L680.65,339.00 L680.90,338.49 L681.15,337.99 L681.40,337.94 L681.65,338.57 L681.90,339.20 L682.15,339.82 L682.40,340.45 L682.65,340.99 L682.90,341.17 L683.15,341.35 L683.40,341.52 L683.65,341.70 L683.90,341.87 L684.15,341.41 L684.40,340.94 L684.65,340.47 L684.90,340.01 L685.15,339.54 L685.40,339.37 L685.65,339.28 L685.90,339.19 L686.15,339.09 L686.40,339.00 L686.65,339.02 L686.90,339.12 L687.15,339.21 L687.40,339.31 L687.65,339.40 L687.90,339.53 L688.15,339.71 L688.40,339.89 L688.65,340.07 L688.90,340.25 L689.15,340.42 L689.40,340.52 L689.65,340.62 L689.90,340.73 L690.15,340.83 L690.40,340.94 L690.65,341.09 L690.90,341.25 L691.15,341.41 L691.40,341.57 L691.65,341.72 L691.90,341.76 L692.15,341.77 L692.40,341.78 L692.65,341.79 L692.90,341.80 L693.15,341.80 L693.40,341.79 L693.65,341.78 L693.90,341.77 L694.15,341.76 L694.40,341.77 L694.65,341.82 L694.90,341.87 L695.15,341.92 L695.40,341.97 L695.65,341.97 L695.90,341.77 L696.15,341.57 L696.40,341.37 L696.65,341.16 L696.90,340.96 L697.15,340.33 L697.40,339.70 L697.65,339.07 L697.90,338.44 L698.15,337.80 L698.40,338.00 L698.65,338.41 L698.90,338.81 L699.15,339.22 L699.40,339.62 L699.65,339.86 L699.90,339.99 L700.15,340.12 L700.40,340.25 L700.65,340.38 L700.90,340.37 L701.15,340.17 L701.40,339.97 L701.65,339.77 L701.90,339.56 L702.15,339.48 L702.40,339.85 L702.65,340.22 L702.90,340.59 L703.15,340.97 L703.40,341.34 L703.65,340.97 L703.90,340.60 L704.15,340.24 L704.40,339.89 L704.65,339.60 L704.90,339.64 L705.15,340.05 L705.40,340.89 L705.65,341.93 L705.90,342.57 L706.15,342.82 L706.40,342.57 L706.65,342.05 L706.90,341.82 L707.15,342.00 L707.40,342.13 L707.65,341.85 L707.90,341.61 L708.15,341.38 L708.40,341.16 L708.65,340.95 L708.90,340.83 L709.15,340.70 L709.40,340.57 L709.65,340.44 L709.90,340.31 L710.15,340.51 L710.40,340.71 L710.65,340.92 L710.90,341.12 L711.15,341.32 L711.40,341.39 L711.65,341.43 L711.90,341.47 L712.15,341.51 L712.40,341.55 L712.65,341.44 L712.90,341.23 L713.15,341.02 L713.40,340.82 L713.65,340.61 L713.90,340.16 L714.15,339.36 L714.40,338.55 L714.65,337.74 L714.90,336.94 L715.15,336.40 L715.40,336.91 L715.65,337.42 L715.90,337.94 L716.15,338.45 L716.40,338.97 L716.65,339.03 L716.90,339.09 L717.15,339.16 L717.40,339.22 L717.65,339.28 L717.90,339.17 L718.15,339.02 L718.40,338.86 L718.65,338.71 L718.90,338.56 L719.15,338.70 L719.40,339.04 L719.65,339.38 L719.90,339.72 L720.15,340.06 L720.40,340.38 L720.65,340.67 L720.90,340.96 L721.15,341.25 L721.40,341.53 L721.65,341.67 L721.90,341.18 L722.15,340.70 L722.40,340.22 L722.65,339.73 L722.90,339.25 L723.15,339.06 L723.40,338.88 L723.65,338.69 L723.90,338.50 L724.15,338.32 L724.40,339.01 L724.65,339.92 L724.90,340.83 L725.15,341.74 L725.40,342.66 L725.65,342.59 L725.90,341.87 L726.15,341.16 L726.40,340.44 L726.65,339.73 L726.90,339.21 L727.15,338.98 L727.20,339.98 L727.45,342.48 L727.70,344.99 L727.95,347.49 L728.20,350.00 L728.45,353.42 L728.70,360.52 L728.95,367.61 L729.20,374.71 L729.45,381.81 L729.70,388.90 L729.95,396.00 L730.20,403.10 L730.45,410.19 L730.70,417.29 L730.95,424.39 L731.20,431.48 L731.45,438.58 L731.70,445.68 L731.95,452.77 L732.20,459.87 L732.45,466.97 L732.70,474.06 L732.95,481.16 L733.20,488.26 L733.45,495.35 L733.70,502.45 L733.95,509.55 L734.20,516.65 L734.45,523.74 L734.70,531.00 L734.95,538.50 L735.20,546.00 L735.45,553.50 L735.70,561.00 L735.95,568.50 L736.20,576.00 L736.45,583.50 L736.70,591.00 L736.95,598.50 L737.20,606.00 L737.45,613.50 L737.70,621.00 L737.95,628.50 L738.20,636.00 L738.45,643.50 L738.70,651.00 L738.95,658.50 L739.20,665.63 L739.45,672.66 L739.70,679.69 L739.95,686.72 L740.20,693.75 L740.45,700.78 L740.70,707.81 L740.95,714.84 L741.20,721.88 L741.45,728.91 L741.70,735.94 L741.95,742.97 L742.20,750.00 L742.45,757.03 L742.70,764.06 L742.95,771.09 L743.20,778.13 L743.45,785.16 L743.70,792.19 L743.80,795.00 L744.05,801.56 L744.30,807.23 L744.55,810.83 L744.80,811.38 L745.05,810.13 L745.30,807.83 L745.55,804.86 L745.80,801.59 L746.05,798.39 L746.30,795.65 L746.55,793.72 L746.80,793.00 L747.05,794.29 L747.30,797.51 L747.55,801.70 L747.80,805.89 L748.05,809.11 L748.30,810.40 L748.55,809.81 L748.80,808.24 L749.05,805.98 L749.30,803.32 L749.55,800.53 L749.80,797.92 L750.05,795.78 L750.30,794.38 L750.55,794.02 L750.80,794.56 L751.05,795.73 L751.30,797.35 L751.55,799.22 L751.80,801.17 L752.05,803.00 L752.30,804.55 L752.55,805.61 L752.80,806.00 L753.05,805.56 L753.30,804.36 L753.55,802.57 L753.80,800.39 L754.05,797.99 L754.30,795.55 L754.55,793.26 L754.80,791.30 L755.05,789.84 L755.30,789.07 L755.55,789.13 L755.80,789.89 L756.05,791.19 L756.30,792.87 L756.55,794.79 L756.80,796.81 L757.05,798.76 L757.30,800.50 L757.55,801.89 L757.80,802.76 L758.05,802.99 L758.30,802.55 L758.55,801.65 L758.80,800.49 L759.05,799.30 L759.30,798.27 L759.55,797.62 L759.80,797.60 L760.05,798.64 L760.30,800.52 L760.55,802.94 L760.80,805.55 L761.05,808.02 L761.30,810.04 L761.55,811.28 L761.80,811.37 L762.05,810.01 L762.30,807.44 L762.55,804.00 L762.80,800.00 L763.05,794.26 L763.30,788.52 L763.55,782.79 L763.80,777.05 L764.05,771.31 L764.30,765.57 L764.55,759.84 L764.80,754.10 L765.05,748.36 L765.30,742.62 L765.55,736.89 L765.80,731.15 L766.05,725.41 L766.30,719.67 L766.55,713.93 L766.80,708.20 L767.05,702.46 L767.30,696.72 L767.55,690.98 L767.80,685.25 L768.05,679.51 L768.30,673.77 L768.55,668.03 L768.80,662.30 L769.05,655.88 L769.30,649.02 L769.55,642.16 L769.80,635.29 L770.05,628.43 L770.30,621.57 L770.55,614.71 L770.80,607.84 L771.05,600.98 L771.30,594.12 L771.55,587.25 L771.80,580.39 L772.05,573.53 L772.30,566.67 L772.55,559.80 L772.80,552.94 L773.05,546.08 L773.30,539.22 L773.55,532.35 L773.80,525.49 L774.05,518.63 L774.30,511.76 L774.55,504.90 L774.80,498.04 L775.05,491.18 L775.30,484.31 L775.55,477.45 L775.80,470.59 L776.05,463.73 L776.30,456.86 L776.55,450.00 L776.80,443.14 L777.05,436.27 L777.30,429.41 L777.55,422.55 L777.80,415.69 L778.05,408.82 L778.30,401.96 L778.55,395.10 L778.80,388.24 L779.05,381.37 L779.30,374.51 L779.55,367.65 L779.80,360.78 L780.05,353.92 L780.30,347.06 L780.55,340.20 L780.80,333.33 L781.05,326.47 L781.30,319.61 L781.55,312.75 L781.80,305.88 L782.05,299.02 L782.30,292.16 L782.55,285.29 L782.80,278.43 L783.05,271.57 L783.30,264.71 L783.55,257.84 L783.80,250.98 L784.05,244.12 L784.30,237.20 L784.55,230.20 L784.80,223.20 L785.05,216.20 L785.30,209.20 L785.55,202.20 L785.80,195.20 L786.05,188.20 L786.30,181.20 L786.55,174.20 L786.80,167.20 L787.05,160.20 L787.30,153.20 L787.55,146.20 L787.80,139.20 L788.05,132.20 L788.30,125.20 L788.55,118.20 L788.80,111.20 L789.05,104.20 L789.20,100.00 L789.45,94.43 L789.70,89.54 L789.95,85.37 L790.20,82.00 L790.45,78.93 L790.70,76.74 L790.80,77.82 L791.05,79.03 L791.30,80.78 L791.55,83.02 L791.80,85.71 L792.05,88.78 L792.30,92.18 L792.55,95.82 L792.80,99.62 L793.05,103.51 L793.30,108.22 L793.55,112.83 L793.80,117.25 L794.05,121.36 L794.30,125.09 L794.55,128.35 L794.80,131.06 L795.05,133.17 L795.30,134.64 L795.55,135.43 L795.80,135.47 L796.05,134.31 L796.30,131.73 L796.55,127.87 L796.80,123.09 L797.05,117.60 L797.30,111.65 L797.55,105.50 L797.80,99.92 L798.05,94.75 L798.30,89.96 L798.55,85.74 L798.80,82.27 L799.05,79.68 L799.30,78.09 L799.55,77.56 L799.80,78.04 L800.05,79.06 L800.30,80.60 L800.55,82.62 L800.80,85.07 L801.05,87.88 L801.30,90.99 L801.55,94.33 L801.80,97.82 L802.05,101.38 L802.30,104.92 L802.55,108.32 L802.80,111.53 L803.05,114.46 L803.30,117.07 L803.55,119.31 L803.80,121.13 L804.05,122.50 L804.30,123.42 L804.55,123.87 L804.80,123.86 L805.05,123.29 L805.30,121.92 L805.55,120.06 L805.80,117.54 L806.05,114.47 L806.30,110.95 L806.55,107.15 L806.80,103.20 L807.05,99.10 L807.30,95.26 L807.55,91.84 L807.80,88.97 L808.05,86.76 L808.30,85.28 L808.55,84.59 L808.80,84.63 L809.05,85.09 L809.30,85.95 L809.55,87.18 L809.80,88.76 L810.05,90.64 L810.30,92.79 L810.55,95.16 L810.80,97.69 L811.05,100.32 L811.30,102.99 L811.55,105.67 L811.80,108.30 L812.05,110.80 L812.30,113.13 L812.55,115.24 L812.80,117.07 L813.05,118.61 L813.30,119.80 L813.55,120.63 L813.80,121.09 L814.05,121.15 L814.30,120.60 L814.55,119.34 L814.80,117.42 L815.05,114.95 L815.30,112.02 L815.55,108.78 L815.80,105.35 L816.05,101.93 L816.30,98.68 L816.55,95.66 L816.80,93.00 L817.05,90.80 L817.30,89.16 L817.55,88.13 L817.80,87.76 L818.05,87.87 L818.30,88.32 L818.55,89.10 L818.80,90.20 L819.05,91.59 L819.30,93.24 L819.55,95.11 L819.80,97.17 L820.05,99.37 L820.30,101.67 L820.55,103.99 L820.80,106.23 L821.05,108.40 L821.30,110.43 L821.55,112.29 L821.80,113.94 L822.05,115.34 L822.30,116.47 L822.55,117.30 L822.80,117.83 L823.05,118.04 L823.30,117.88 L823.55,117.16 L823.80,115.90 L824.05,114.14 L824.30,111.96 L824.55,109.45 L824.80,106.72 L825.05,103.89 L825.30,100.72 L825.55,97.62 L825.80,94.78 L826.05,92.29 L826.30,90.28 L826.55,88.82 L826.80,87.97 L827.05,87.78 L827.30,88.07 L827.55,88.70 L827.80,89.64 L828.05,90.89 L828.30,92.40 L828.55,94.15 L828.80,96.09 L829.05,98.18 L829.30,100.38 L829.55,102.63 L829.80,104.67 L830.05,106.51 L830.30,108.28 L830.55,109.92 L830.80,111.41 L831.05,112.71 L831.30,113.80 L831.55,114.66 L831.80,115.26 L832.05,115.61 L832.30,115.68 L832.55,115.38 L832.80,114.60 L833.05,113.41 L833.30,111.81 L833.55,109.87 L833.80,107.67 L834.05,105.30 L834.30,102.72 L834.55,99.84 L834.80,97.14 L835.05,94.72 L835.30,92.68 L835.55,91.11 L835.80,90.07 L836.05,89.59 L836.30,89.61 L836.55,89.92 L836.80,90.54 L837.05,91.45 L837.30,92.62 L837.55,94.03 L837.80,95.66 L838.05,97.46 L838.30,99.40 L838.55,101.44 L838.80,103.53 L839.05,105.27 L839.30,106.96 L839.55,108.57 L839.80,110.07 L840.05,111.42 L840.30,112.60 L840.55,113.58 L840.80,114.34 L841.05,114.87 L841.30,115.14 L841.55,115.15 L841.80,114.72 L842.05,113.81 L842.30,112.47 L842.55,110.77 L842.80,108.78 L843.05,106.59 L843.30,104.29 L843.55,101.53 L843.80,98.64 L844.05,95.94 L844.30,93.56 L844.55,91.59 L844.80,90.11 L845.05,89.19 L845.30,88.86 L845.55,89.02 L845.80,89.50 L846.05,90.29 L846.30,91.37 L846.55,92.71 L846.80,94.29 L847.05,96.07 L847.30,98.02 L847.55,100.09 L847.80,102.23 L848.05,104.17 L848.30,105.70 L848.55,107.17 L848.80,108.56 L849.05,109.82 L849.30,110.94 L849.55,111.89 L849.80,112.64 L850.05,113.19 L850.30,113.53 L850.55,113.65 L850.80,113.49 L851.05,112.92 L851.30,112.00 L851.55,110.74 L851.80,109.17 L852.05,107.38 L852.30,105.42 L852.55,103.31 L852.80,100.33 L853.05,97.49 L853.30,94.90 L853.55,92.67 L853.80,90.89 L854.05,89.64 L854.30,88.97 L854.55,88.91 L854.80,89.24 L855.05,89.89 L855.30,90.82 L855.55,92.03 L855.80,93.49 L856.05,95.15 L856.30,96.99 L856.55,98.96 L856.80,101.02 L857.05,103.11 L857.30,104.72 L857.55,106.18 L857.80,107.57 L858.05,108.88 L858.30,110.07 L858.55,111.12 L858.80,112.00 L859.05,112.70 L859.30,113.20 L859.55,113.49 L859.80,113.56 L860.05,113.28 L860.30,112.61 L860.55,111.58 L860.80,110.21 L861.05,108.55 L861.30,106.67 L861.55,104.64 L861.80,102.24 L862.05,99.59 L862.30,97.12 L862.55,94.94 L862.80,93.13 L863.05,91.76 L863.30,90.90 L863.55,90.57 L863.80,90.69 L864.05,91.09 L864.30,91.77 L864.55,92.70 L864.80,93.86 L865.05,95.22 L865.30,96.76 L865.55,98.43 L865.80,100.21 L866.05,102.05 L866.30,103.87 L866.55,105.50 L866.80,107.11 L867.05,108.65 L867.30,110.09 L867.55,111.40 L867.80,112.54 L868.05,113.50 L868.30,114.25 L868.55,114.76 L868.80,115.04 L869.05,115.03 L869.30,114.56 L869.55,113.57 L869.80,112.15 L870.05,110.39 L870.30,108.35 L870.55,106.14 L870.80,103.83 L871.05,101.44 L871.30,99.15 L871.55,97.06 L871.80,95.25 L872.05,93.80 L872.30,92.76 L872.55,92.19 L872.80,92.08 L873.05,92.29 L873.30,92.75 L873.55,93.45 L873.80,94.35 L874.05,95.46 L874.30,96.73 L874.55,98.14 L874.80,99.66 L875.05,101.25 L875.30,102.89 L875.55,104.48 L875.80,106.00 L876.05,107.46 L876.30,108.82 L876.55,110.06 L876.80,111.14 L877.05,112.05 L877.30,112.77 L877.55,113.28 L877.80,113.57 L878.05,113.65 L878.30,113.41 L878.55,112.76 L878.80,111.75 L879.05,110.41 L879.30,108.79 L879.55,106.96 L879.80,105.00 L880.05,102.96 L880.30,100.90 L880.55,98.96 L880.80,97.23 L881.05,95.78 L881.30,94.66 L881.55,93.92 L881.80,93.58 L882.05,93.62 L882.30,93.89 L882.55,94.36 L882.80,95.03 L883.05,95.89 L883.30,96.91 L883.55,98.07 L883.80,99.34 L884.05,100.70 L884.30,102.11 L884.55,103.54 L884.80,104.92 L885.05,106.25 L885.30,107.52 L885.55,108.70 L885.80,109.76 L886.05,110.67 L886.30,111.43 L886.55,112.01 L886.80,112.40 L887.05,112.59 L887.30,112.58 L887.55,112.23 L887.80,111.51 L888.05,110.48 L888.30,109.16 L888.55,107.62 L888.80,105.92 L889.05,104.13 L889.30,102.28 L889.55,100.47 L889.80,98.80 L890.05,97.33 L890.30,96.14 L890.55,95.26 L890.80,94.72 L891.05,94.56 L891.30,94.68 L891.55,94.98 L891.80,95.47 L892.05,96.14 L892.30,96.97 L892.55,97.94 L892.80,99.03 L893.05,100.21 L893.30,101.46 L893.55,102.76 L893.80,104.04 L894.05,105.26 L894.30,106.43 L894.55,107.53 L894.80,108.53 L895.05,109.43 L895.30,110.18 L895.55,110.79 L895.80,111.24 L896.05,111.52 L896.30,111.62 L896.55,111.49 L896.80,111.05 L897.05,110.30 L897.30,109.28 L897.55,108.03 L897.80,106.59 L898.05,105.04 L898.30,103.41 L898.55,101.67 L898.80,100.02 L899.05,98.51 L899.30,97.23 L899.55,96.21 L899.80,95.49 L900.05,95.12 L900.30,95.08 L900.55,95.26 L900.80,95.63 L901.05,96.16 L901.30,96.85 L901.55,97.69 L901.80,98.65 L902.05,99.72 L902.30,100.87 L902.55,102.07 L902.80,103.30 L903.05,104.45 L903.30,105.56 L903.55,106.62 L903.80,107.61 L904.05,108.51 L904.30,109.30 L904.55,109.96 L904.80,110.48 L905.05,110.84 L905.30,111.04 L905.55,111.08 L905.80,110.86 L906.05,110.33 L906.30,109.53 L906.55,108.48 L906.80,107.23 L907.05,105.83 L907.30,104.34 L907.55,102.76 L907.80,101.15 L908.05,99.64 L908.30,98.30 L908.55,97.18 L908.80,96.33 L909.05,95.79 L909.30,95.57 L909.55,95.63 L909.80,95.87 L910.05,96.28 L910.30,96.84 L910.55,97.55 L910.80,98.39 L911.05,99.33 L911.30,100.37 L911.55,101.47 L911.80,102.62 L912.05,103.76 L912.30,104.81 L912.55,105.83 L912.80,106.80 L913.05,107.69 L913.30,108.49 L913.55,109.18 L913.80,109.75 L914.05,110.17 L914.30,110.45 L914.55,110.58 L914.80,110.53 L915.05,110.21 L915.30,109.61 L915.55,108.76 L915.80,107.70 L916.05,106.47 L916.30,105.13 L916.55,103.73 L916.80,102.20 L917.05,100.71 L917.30,99.36 L917.55,98.18 L917.80,97.23 L918.05,96.54 L918.30,96.15 L918.55,96.07 L918.80,96.20 L919.05,96.49 L919.30,96.93 L919.55,97.51 L919.80,98.23 L920.05,99.06 L920.30,99.98 L920.55,100.98 L920.80,102.03 L921.05,103.11 L921.30,104.14 L921.55,105.11 L921.80,106.04 L922.05,106.92 L922.30,107.71 L922.55,108.42 L922.80,109.01 L923.05,109.48 L923.30,109.82 L923.55,110.03 L923.80,110.09 L924.05,109.95 L924.30,109.54 L924.55,108.89 L924.80,108.02 L925.05,106.96 L925.30,105.78 L925.55,104.50 L925.80,103.15 L926.05,101.72 L926.30,100.38 L926.55,99.17 L926.80,98.15 L927.05,97.36 L927.30,96.83 L927.55,96.58 L927.80,96.59 L928.05,96.76 L928.30,97.08 L928.55,97.53 L928.80,98.12 L929.05,98.83 L929.30,99.65 L929.55,100.54 L929.80,101.51 L930.05,102.52 L930.30,103.55 L930.55,104.46 L930.80,105.34 L931.05,106.19 L931.30,106.97 L931.55,107.67 L931.80,108.28 L932.05,108.78 L932.30,109.17 L932.55,109.44 L932.80,109.57 L933.05,109.57 L933.30,109.34 L933.55,108.87 L933.80,108.19 L934.05,107.32 L934.30,106.30 L934.55,105.16 L934.80,103.95 L935.05,102.59 L935.30,101.20 L935.55,99.91 L935.80,98.78 L936.05,97.84 L936.30,97.14 L936.55,96.71 L936.80,96.56 L937.05,96.65 L937.30,96.89 L937.55,97.28 L937.80,97.80 L938.05,98.44 L938.30,99.20 L938.55,100.04 L938.80,100.96 L939.05,101.94 L939.30,102.94 L939.55,103.91 L939.80,104.79 L940.05,105.64 L940.30,106.45 L940.55,107.19 L940.80,107.86 L941.05,108.43 L941.30,108.89 L941.55,109.24 L941.80,109.47 L942.05,109.56 L942.30,109.49 L942.55,109.17 L942.80,108.62 L943.05,107.85 L943.30,106.91 L943.55,105.83 L943.80,104.67 L944.05,103.45 L944.30,102.11 L944.55,100.84 L944.80,99.69 L945.05,98.71 L945.30,97.93 L945.55,97.39 L945.80,97.10 L946.05,97.08 L946.30,97.22 L946.55,97.50 L946.80,97.91 L947.05,98.44 L947.30,99.08 L947.55,99.82 L947.80,100.63 L948.05,101.51 L948.30,102.43 L948.55,103.36 L948.80,104.22 L949.05,105.04 L949.30,105.82 L949.55,106.55 L949.80,107.21 L950.05,107.79 L950.30,108.27 L950.55,108.65 L950.80,108.91 L951.05,109.06 L951.30,109.08 L951.55,108.92 L951.80,108.53 L952.05,107.93 L952.30,107.16 L952.55,106.24 L952.80,105.22 L953.05,104.13 L953.30,102.96 L953.55,101.74 L953.80,100.61 L954.05,99.60 L954.30,98.77 L954.55,98.13 L954.80,97.73 L955.05,97.57 L955.30,97.61 L955.55,97.78 L955.80,98.07 L956.05,98.49 L956.30,99.02 L956.55,99.64 L956.80,100.35 L957.05,101.14 L957.30,101.97 L957.55,102.84 L957.80,103.71 L958.05,104.46 L958.30,105.20 L958.55,105.89 L958.80,106.53 L959.05,107.10 L959.30,107.60 L959.55,108.00 L959.80,108.30 L960.05,108.50 L960.30,108.59 L960.55,108.55 L960.80,108.31 L961.05,107.89 L961.30,107.29 L961.55,106.54 L961.80,105.66 L962.05,104.69 L962.30,103.68 L962.55,102.48 L962.80,101.31 L963.05,100.23 L963.30,99.28 L963.55,98.52 L963.80,97.97 L964.05,97.64 L964.30,97.57 L964.55,97.67 L964.80,97.91 L965.05,98.26 L965.30,98.73 L965.55,99.31 L965.80,99.97 L966.05,100.71 L966.30,101.50 L966.55,102.34 L966.80,103.21 L967.05,104.00 L967.30,104.73 L967.55,105.43 L967.80,106.09 L968.05,106.70 L968.30,107.24 L968.55,107.70 L968.80,108.07 L969.05,108.34 L969.30,108.51 L969.55,108.56 L969.80,108.47 L970.05,108.16 L970.30,107.66 L970.55,106.99 L970.80,106.17 L971.05,105.26 L971.30,104.28 L971.55,103.24 L971.80,102.11 L972.05,101.05 L972.30,100.10 L972.55,99.30 L972.80,98.68 L973.05,98.27 L973.30,98.08 L973.55,98.09 L973.80,98.24 L974.05,98.50 L974.30,98.87 L974.55,99.34 L974.80,99.90 L975.05,100.54 L975.30,101.24 L975.55,101.98 L975.80,102.76 L976.05,103.55 L976.30,104.24 L976.55,104.91 L976.80,105.54 L977.05,106.13 L977.30,106.66 L977.55,107.12 L977.80,107.50 L978.05,107.78 L978.30,107.98 L978.55,108.08 L978.80,108.07 L979.05,107.89 L979.30,107.55 L979.55,107.04 L979.80,106.38 L980.05,105.61 L980.30,104.76 L980.55,103.85 L980.80,102.85 L981.05,101.85 L981.30,100.92 L981.55,100.11 L981.80,99.44 L982.05,98.95 L982.30,98.65 L982.55,98.56 L982.80,98.62 L983.05,98.78 L983.30,99.05 L983.55,99.41 L983.80,99.87 L984.05,100.41 L984.30,101.02 L984.55,101.68 L984.80,102.38 L985.05,103.11 L985.30,103.82 L985.55,104.48 L985.80,105.12 L986.05,105.73 L986.30,106.28 L986.55,106.78 L986.80,107.21 L987.05,107.56 L987.30,107.82 L987.55,107.99 L987.80,108.06 L988.05,108.01 L988.30,107.77 L988.55,107.35 L988.80,106.77 L989.05,106.07 L989.30,105.26 L989.55,104.39 L989.80,103.48 L990.05,102.46 L990.30,101.50 L990.55,100.62 L990.80,99.86 L991.05,99.25 L991.30,98.83 L991.55,98.60 L991.80,98.58 L992.05,98.69 L992.30,98.91 L992.55,99.22 L992.80,99.63 L993.05,100.13 L993.30,100.70 L993.55,101.32 L993.80,101.99 L994.05,102.69 L994.30,103.41 L994.55,104.05 L994.80,104.65 L995.05,105.22 L995.30,105.75 L995.55,106.23 L995.80,106.65 L996.05,107.00 L996.30,107.28 L996.55,107.47 L996.80,107.57 L997.05,107.58 L997.30,107.46 L997.55,107.18 L997.80,106.75 L998.05,106.20 L998.30,105.53 L998.55,104.78 L998.80,103.98 L999.05,103.11 L999.30,102.19 L999.55,101.34 L999.80,100.58 L1000.05,99.96 L1000.30,99.48 L1000.55,99.18 L1000.80,99.07 L1001.05,99.10 L1001.30,99.22 L1001.55,99.44 L1001.80,99.76 L1002.05,100.15 L1002.30,100.62 L1002.55,101.16 L1002.80,101.74 L1003.05,102.37" fill="none" stroke="#d00000" stroke-width="1.8" stroke-linejoin="round"/>
<path d="M123.00,93.25 L123.25,93.61 L123.50,94.44 L123.75,95.30 L124.00,96.49 L124.25,98.01 L124.50,99.77 L124.75,101.41 L125.00,102.69 L125.25,104.41 L125.50,106.19 L125.75,107.32 L126.00,108.52 L126.25,109.34 L126.50,110.27 L126.75,110.70 L127.00,111.05 L127.25,111.33 L127.50,111.45 L127.75,111.49 L128.00,111.10 L128.25,110.14 L128.50,109.05 L128.75,108.07 L129.00,106.70 L129.25,104.96 L129.50,103.43 L129.75,102.12 L130.00,100.37 L130.25,98.95 L130.50,97.28 L130.75,96.23 L131.00,95.36 L131.25,94.55 L131.50,94.06 L131.75,93.56 L132.00,93.69 L132.25,93.74 L132.50,94.15 L132.75,95.33 L133.00,96.15 L133.25,97.58 L133.50,99.06 L133.75,100.77 L134.00,102.81 L134.25,104.27 L134.50,105.59 L134.75,106.62 L135.00,107.78 L135.25,108.81 L135.50,109.34 L135.75,109.79 L136.00,110.53 L136.25,110.97 L136.50,110.73 L136.75,110.59 L137.00,109.97 L137.25,109.42 L137.50,108.33 L137.75,107.09 L138.00,106.20 L138.25,105.28 L138.50,104.49 L138.75,103.01 L139.00,101.37 L139.25,99.95 L139.50,98.08 L139.75,96.45 L140.00,95.03 L140.25,94.56 L140.50,94.14 L140.75,93.55 L141.00,93.74 L141.25,93.96 L141.50,94.73 L141.75,95.18 L142.00,96.01 L142.25,97.37 L142.50,98.84 L142.75,100.42 L143.00,101.60 L143.25,103.35 L143.50,104.20 L143.75,105.18 L144.00,106.07 L144.25,106.76 L144.50,107.64 L144.75,108.00 L145.00,108.57 L145.25,108.58 L145.50,108.71 L145.75,108.47 L146.00,108.26 L146.25,107.71 L146.50,106.70 L146.75,106.08 L147.00,105.12 L147.25,104.60 L147.50,104.09 L147.75,103.34 L148.00,101.96 L148.25,100.38 L148.50,99.06 L148.75,97.57 L149.00,95.87 L149.25,95.13 L149.50,94.58 L149.75,93.88 L150.00,93.60 L150.25,93.76 L150.50,94.02 L150.75,94.63 L151.00,95.32 L151.25,96.86 L151.50,98.28 L151.75,99.81 L152.00,101.51 L152.25,103.12 L152.50,104.17 L152.75,104.90 L153.00,106.02 L153.25,106.62 L153.50,107.79 L153.75,108.26 L154.00,109.35 L154.25,109.77 L154.50,110.01 L154.75,110.38 L155.00,109.70 L155.25,109.80 L155.50,109.30 L155.75,108.66 L156.00,107.53 L156.25,106.43 L156.50,105.40 L156.75,104.20 L157.00,102.37 L157.25,100.79 L157.50,99.19 L157.75,97.74 L158.00,96.48 L158.25,95.51 L158.50,94.81 L158.75,94.49 L159.00,94.40 L159.25,94.38 L159.50,94.83 L159.75,95.04 L160.00,95.86 L160.25,96.64 L160.50,97.81 L160.75,99.08 L161.00,100.51 L161.25,102.51 L161.50,103.80 L161.75,104.85 L162.00,106.09 L162.25,107.63 L162.50,108.43 L162.75,108.86 L163.00,109.48 L163.25,109.77 L163.50,110.06 L163.75,109.81 L164.00,109.90 L164.25,109.42 L164.50,109.04 L164.75,108.52 L165.00,107.46 L165.25,106.24 L165.50,104.90 L165.75,104.11 L166.00,102.57 L166.25,101.04 L166.50,99.44 L166.75,98.05 L167.00,96.82 L167.25,95.53 L167.50,94.65 L167.75,93.90 L168.00,93.50 L168.25,93.69 L168.50,94.09 L168.75,94.53 L169.00,95.25 L169.25,96.06 L169.50,97.51 L169.75,98.95 L170.00,100.43 L170.25,102.21 L170.50,104.13 L170.75,105.72 L171.00,106.85 L171.25,107.65 L171.50,108.91 L171.75,109.40 L172.00,110.06 L172.25,110.46 L172.50,110.67 L172.75,111.11 L173.00,110.92 L173.25,110.56 L173.50,109.54 L173.75,108.88 L174.00,107.69 L174.25,106.39 L174.50,105.24 L174.75,104.08 L175.00,102.85 L175.25,100.78 L175.50,99.05 L175.75,97.18 L176.00,95.38 L176.25,94.07 L176.50,92.99 L176.75,92.08 L177.00,91.42 L177.25,91.04 L177.50,91.34 L177.75,92.05 L178.00,93.27 L178.25,94.28 L178.50,95.76 L178.75,97.50 L179.00,99.03 L179.25,100.96 L179.50,102.67 L179.75,103.88 L180.00,104.90 L180.25,106.23 L180.50,106.82 L180.75,107.52 L181.00,108.10 L181.25,108.35 L181.50,108.20 L181.75,107.81 L182.00,108.26 L182.25,107.98 L182.50,107.77 L182.75,107.32 L183.00,107.26 L183.25,106.67 L183.50,105.35 L183.75,104.36 L184.00,103.03 L184.25,100.88 L184.50,98.85 L184.75,97.48 L185.00,96.44 L185.25,95.09 L185.50,94.25 L185.75,94.29 L186.00,93.94 L186.25,93.54 L186.50,93.67 L186.75,94.33 L187.00,95.36 L187.25,96.20 L187.50,97.37 L187.75,98.51 L188.00,100.07 L188.25,101.49 L188.50,103.13 L188.75,104.20 L189.00,105.46 L189.25,106.94 L189.50,107.83 L189.75,109.38 L190.00,110.41 L190.25,111.33 L190.50,112.05 L190.75,112.31 L191.00,112.02 L191.25,111.44 L191.50,110.63 L191.75,109.98 L192.00,108.70 L192.25,107.47 L192.50,106.69 L192.75,105.55 L193.00,104.25 L193.25,102.90 L193.50,102.11 L193.75,100.87 L194.00,99.77 L194.25,98.31 L194.50,97.79 L194.75,97.42 L195.00,96.92 L195.25,96.92 L195.50,97.00 L195.75,97.57 L196.00,97.64 L196.25,98.01 L196.50,98.62 L196.75,99.69 L197.00,100.82 L197.25,101.90 L197.50,103.03 L197.75,104.18 L198.00,105.69 L198.25,106.67 L198.50,107.65 L198.75,108.53 L199.00,109.22 L199.25,109.93 L199.50,110.21 L199.75,110.25 L200.00,110.20 L200.25,110.00 L200.50,109.80 L200.75,108.93 L201.00,107.97 L201.25,107.00 L201.50,106.22 L201.75,105.06 L202.00,104.05 L202.25,103.49 L202.50,102.27 L202.75,101.16 L203.00,99.95 L203.25,99.12 L203.50,98.00 L203.75,97.14 L204.00,97.09 L204.25,96.87 L204.50,96.70 L204.75,96.58 L205.00,97.12 L205.25,97.30 L205.50,97.42 L205.75,98.58 L206.00,99.48 L206.25,101.02 L206.50,102.49 L206.75,104.04 L207.00,105.22 L207.25,106.18 L207.50,107.07 L207.75,107.42 L208.00,107.44 L208.25,107.83 L208.50,108.29 L208.75,108.25 L209.00,108.16 L209.25,108.01 L209.50,107.94 L209.75,107.63 L210.00,106.85 L210.25,106.14 L210.50,105.71 L210.75,105.10 L211.00,104.43 L211.25,103.63 L211.50,102.18 L211.75,100.73 L212.00,99.59 L212.25,98.44 L212.50,97.29 L212.75,95.97 L213.00,95.31 L213.25,94.40 L213.50,93.69 L213.75,93.90 L214.00,94.45 L214.25,95.42 L214.50,95.93 L214.75,97.32 L215.00,98.72 L215.25,100.05 L215.50,101.79 L215.75,103.35 L216.00,104.37 L216.25,104.91 L216.50,105.66 L216.75,106.08 L217.00,105.95 L217.25,106.33 L217.50,106.56 L217.75,107.23 L218.00,107.59 L218.25,107.85 L218.50,107.88 L218.75,107.74 L219.00,107.59 L219.25,106.85 L219.50,106.03 L219.75,104.94 L220.00,104.04 L220.25,103.31 L220.50,102.18 L220.75,101.06 L221.00,100.15 L221.25,99.04 L221.50,98.27 L221.75,97.44 L222.00,97.00 L222.25,96.50 L222.50,96.31 L222.75,96.69 L223.00,96.84 L223.25,97.07 L223.50,97.77 L223.75,98.72 L224.00,99.12 L224.25,100.39 L224.50,101.86 L224.75,103.48 L225.00,104.37 L225.25,105.23 L225.50,106.36 L225.75,107.50 L226.00,108.20 L226.25,108.97 L226.50,109.41 L226.75,109.76 L227.00,109.74 L227.25,109.11 L227.50,109.06 L227.75,108.12 L228.00,107.87 L228.25,107.23 L228.50,106.59 L228.75,105.74 L229.00,104.61 L229.25,103.97 L229.50,102.68 L229.75,101.26 L230.00,100.25 L230.25,99.08 L230.50,97.98 L230.75,97.17 L231.00,96.77 L231.25,96.15 L231.50,95.92 L231.75,95.92 L232.00,96.12 L232.25,96.64 L232.50,96.94 L232.75,98.24 L233.00,99.01 L233.25,100.26 L233.50,101.57 L233.75,102.53 L234.00,103.82 L234.25,104.00 L234.50,104.69 L234.75,104.98 L235.00,105.12 L235.25,105.51 L235.50,105.70 L235.75,106.13 L236.00,106.00 L236.25,106.09 L236.50,105.97 L236.75,106.02 L237.00,105.63 L237.25,104.87 L237.50,104.69 L237.75,104.49 L238.00,104.06 L238.25,103.23 L238.50,102.65 L238.75,101.37 L239.00,100.08 L239.25,98.43 L239.50,97.40 L239.75,96.68 L240.00,95.84 L240.25,95.49 L240.50,94.85 L240.75,94.62 L241.00,94.52 L241.25,95.18 L241.50,95.92 L241.75,96.75 L242.00,97.98 L242.25,99.43 L242.50,101.09 L242.75,102.48 L243.00,103.76 L243.25,104.18 L243.50,104.72 L243.75,105.15 L244.00,105.93 L244.25,106.31 L244.50,106.82 L244.75,107.24 L245.00,107.63 L245.25,108.27 L245.50,107.58 L245.75,107.34 L246.00,106.99 L246.25,106.98 L246.50,106.29 L246.75,105.33 L247.00,104.85 L247.25,103.79 L247.50,103.44 L247.75,102.21 L248.00,101.10 L248.25,99.85 L248.50,98.75 L248.75,97.97 L249.00,97.00 L249.25,96.30 L249.50,96.04 L249.75,95.87 L250.00,96.27 L250.25,96.60 L250.50,97.30 L250.75,98.31 L251.00,99.12 L251.25,100.15 L251.50,101.22 L251.75,102.27 L252.00,103.10 L252.20,103.56 L252.45,111.71 L252.70,119.86 L252.95,128.01 L253.20,136.15 L253.45,144.30 L253.70,152.45 L253.95,160.60 L254.20,168.75 L254.45,176.89 L254.70,185.04 L254.95,193.19 L255.20,201.34 L255.45,209.48 L255.70,217.63 L255.95,225.78 L256.20,233.93 L256.45,242.08 L256.70,250.22 L256.95,258.37 L257.20,267.29 L257.45,276.41 L257.70,285.53 L257.95,294.65 L258.20,303.76 L258.45,312.88 L258.70,322.00 L258.95,322.83 L259.20,323.67 L259.45,324.50 L259.70,325.33 L259.95,326.17 L260.20,327.00 L260.45,334.39 L260.70,341.78 L260.95,349.17 L261.20,356.56 L261.45,363.94 L261.70,371.33 L261.95,378.72 L262.20,386.11 L262.45,393.50 L262.70,400.89 L262.95,408.28 L263.20,415.67 L263.45,423.06 L263.70,430.44 L263.95,437.83 L264.20,445.22 L264.45,452.61 L264.70,460.00 L264.95,470.00 L265.20,480.00 L265.45,490.00 L265.70,500.00 L265.95,510.00 L266.20,513.00 L266.45,514.25 L266.70,515.50 L266.95,516.75 L267.20,522.50 L267.45,529.37 L267.70,536.25 L267.95,543.12 L268.20,550.00 L268.45,556.87 L268.70,563.75 L268.95,570.62 L269.20,577.50 L269.45,584.37 L269.70,591.25 L269.95,598.12 L270.20,605.00 L270.45,611.87 L270.70,618.75 L270.95,625.62 L271.20,632.50 L271.45,639.38 L271.70,646.25 L271.95,653.12 L272.20,660.00 L272.45,666.25 L272.70,672.50 L272.95,678.75 L273.20,685.00 L273.45,691.25 L273.70,697.50 L273.95,703.75 L274.20,710.00 L274.45,716.25 L274.70,722.50 L274.95,728.75 L275.20,735.00 L275.45,741.25 L275.70,747.50 L275.95,753.75 L276.20,760.00 L276.45,766.25 L276.70,772.50 L276.95,778.75 L277.20,785.00 L277.45,791.25 L277.70,797.50 L277.95,803.75 L278.20,810.00 L278.45,816.25 L278.60,820.00 L278.85,829.94 L279.10,837.82 L279.35,843.30 L279.60,846.05 L279.85,845.65 L280.10,842.17 L280.35,836.73 L280.60,830.53 L280.85,824.76 L281.10,820.38 L281.35,816.13 L281.60,811.69 L281.85,807.20 L282.10,802.77 L282.35,798.54 L282.60,794.65 L282.85,791.21 L283.10,788.36 L283.35,786.22 L283.60,784.93 L283.85,784.64 L284.10,786.04 L284.35,789.05 L284.60,793.21 L284.85,798.06 L285.10,803.12 L285.35,807.92 L285.60,812.00 L285.85,815.99 L286.10,820.42 L286.35,824.71 L286.60,828.23 L286.85,830.40 L287.10,830.53 L287.35,827.63 L287.60,821.96 L287.85,814.01 L288.10,804.28 L288.20,800.00 L288.45,789.39 L288.70,778.79 L288.95,768.18 L289.20,757.58 L289.45,746.97 L289.70,736.36 L289.95,725.76 L290.20,715.15 L290.45,704.55 L290.70,693.94 L290.95,683.33 L291.20,672.73 L291.45,662.12 L291.70,658.18 L291.95,655.91 L292.20,653.64 L292.45,651.36 L292.70,649.00 L292.95,646.50 L293.20,644.00 L293.45,638.27 L293.70,632.54 L293.95,626.81 L294.20,621.08 L294.45,615.35 L294.70,609.63 L294.95,603.90 L295.20,598.17 L295.45,592.44 L295.70,586.00 L295.95,578.50 L296.20,571.00 L296.45,563.50 L296.70,556.00 L296.95,548.50 L297.20,541.00 L297.45,533.50 L297.70,526.00 L297.95,518.50 L298.20,511.00 L298.45,503.50 L298.70,496.00 L298.95,488.50 L299.20,481.00 L299.45,473.50 L299.70,466.00 L299.95,458.72 L300.20,452.34 L300.45,445.96 L300.70,439.57 L300.95,433.19 L301.20,426.81 L301.45,420.43 L301.70,414.04 L301.95,407.66 L302.20,401.28 L302.45,394.89 L302.70,388.51 L302.95,382.13 L303.20,375.74 L303.45,369.36 L303.70,362.98 L303.95,356.60 L304.20,350.21 L304.45,343.83 L304.60,340.00 L304.85,331.93 L305.10,324.52 L305.35,317.86 L305.60,312.00 L305.85,306.09 L306.10,300.63 L306.35,297.70 L306.40,297.98 L306.65,298.89 L306.90,301.40 L307.15,305.40 L307.40,310.72 L307.65,317.14 L307.90,324.43 L308.15,332.27 L308.40,340.35 L308.65,347.80 L308.90,354.95 L309.15,361.51 L309.40,367.24 L309.65,371.91 L309.90,375.33 L310.15,377.38 L310.40,375.95 L310.65,374.93 L310.90,372.56 L311.15,368.95 L311.40,364.26 L311.65,358.68 L311.90,352.43 L312.15,345.77 L312.40,338.81 L312.65,331.10 L312.90,323.78 L313.15,317.12 L313.40,311.39 L313.65,306.80 L313.90,303.52 L314.15,301.68 L314.40,301.35 L314.65,302.62 L314.90,305.32 L315.15,309.33 L315.40,314.49 L315.65,320.57 L315.90,327.33 L316.15,334.50 L316.40,341.53 L316.65,347.62 L316.90,353.34 L317.15,358.47 L317.40,362.83 L317.65,366.25 L317.90,368.60 L318.15,369.82 L318.40,369.91 L318.65,368.95 L318.90,366.87 L319.15,363.74 L319.40,359.69 L319.65,354.89 L319.90,349.52 L320.15,343.79 L320.40,337.68 L320.65,331.26 L320.90,325.27 L321.15,319.92 L321.40,315.43 L321.65,311.95 L321.90,309.60 L322.15,308.46 L322.40,308.53 L322.65,309.76 L322.90,312.15 L323.15,315.60 L323.40,319.97 L323.65,325.07 L323.90,330.71 L324.15,336.66 L324.40,342.57 L324.65,348.23 L324.90,353.55 L325.15,358.34 L325.40,362.40 L325.65,365.58 L325.90,367.76 L326.15,368.85 L326.40,368.78 L326.65,367.56 L326.90,365.28 L327.15,362.03 L327.40,357.95 L327.65,353.21 L327.90,347.98 L328.15,342.48 L328.40,336.91 L328.65,331.48 L328.90,326.44 L329.15,321.98 L329.40,318.25 L329.65,315.40 L329.90,313.53 L330.15,312.71 L330.40,312.92 L330.65,314.16 L330.90,316.40 L331.15,319.54 L331.40,323.45 L331.65,327.97 L331.90,332.93 L332.15,338.14 L332.40,343.36 L332.65,348.42 L332.90,353.10 L333.15,357.24 L333.40,360.68 L333.65,363.28 L333.90,364.96 L334.15,365.66 L334.40,365.41 L334.65,364.19 L334.90,362.03 L335.15,359.02 L335.40,355.28 L335.65,350.95 L335.90,346.21 L336.15,341.23 L336.40,336.27 L336.65,331.49 L336.90,327.07 L337.15,323.19 L337.40,319.98 L337.65,317.58 L337.90,316.06 L338.15,315.48 L338.40,315.82 L338.65,317.09 L338.90,319.24 L339.15,322.19 L339.40,325.82 L339.65,329.99 L339.90,334.53 L340.15,339.26 L340.40,344.14 L340.65,348.87 L340.90,353.25 L341.15,357.09 L341.40,360.27 L341.65,362.64 L341.90,364.13 L342.15,364.67 L342.40,364.23 L342.65,362.84 L342.90,360.58 L343.15,357.52 L343.40,353.80 L343.65,349.56 L343.90,344.97 L344.15,340.22 L344.40,335.62 L344.65,331.23 L344.90,327.19 L345.15,323.66 L345.40,320.78 L345.65,318.66 L345.90,317.38 L346.15,316.98 L346.40,317.40 L346.65,318.71 L346.90,320.84 L347.15,323.73 L347.40,327.26 L347.65,331.28 L347.90,335.66 L348.15,340.21 L348.40,344.74 L348.65,349.07 L348.90,353.02 L349.15,356.44 L349.40,359.20 L349.65,361.21 L349.90,362.37 L350.15,362.66 L350.40,362.02 L350.65,360.54 L350.90,358.27 L351.15,355.31 L351.40,351.79 L351.65,347.85 L351.90,343.64 L352.15,339.28 L352.40,334.67 L352.65,330.26 L352.90,326.22 L353.15,322.71 L353.40,319.86 L353.65,317.80 L353.90,316.59 L354.15,316.31 L354.40,317.02 L354.65,318.62 L354.90,321.04 L355.15,324.18 L355.40,327.91 L355.65,332.09 L355.90,336.55 L356.15,340.97 L356.40,344.85 L356.65,348.50 L356.90,351.79 L357.15,354.57 L357.40,356.76 L357.65,358.28 L357.90,359.07 L358.15,359.13 L358.40,358.51 L358.65,357.18 L358.90,355.17 L359.15,352.58 L359.40,349.51 L359.65,346.07 L359.90,342.41 L360.15,338.45 L360.40,334.19 L360.65,330.17 L360.90,326.57 L361.15,323.50 L361.40,321.09 L361.65,319.44 L361.90,318.59 L362.15,318.59 L362.40,319.44 L362.65,321.08 L362.90,323.44 L363.15,326.41 L363.40,329.88 L363.65,333.71 L363.90,337.73 L364.15,341.63 L364.40,345.22 L364.65,348.60 L364.90,351.64 L365.15,354.22 L365.40,356.23 L365.65,357.61 L365.90,358.30 L366.15,358.26 L366.40,357.50 L366.65,356.06 L366.90,354.00 L367.15,351.42 L367.40,348.40 L367.65,345.08 L367.90,341.57 L368.15,337.94 L368.40,334.34 L368.65,331.00 L368.90,328.05 L369.15,325.59 L369.40,323.73 L369.65,322.51 L369.90,321.99 L370.15,322.08 L370.40,322.82 L370.65,324.23 L370.90,326.26 L371.15,328.82 L371.40,331.84 L371.65,335.18 L371.90,338.72 L372.15,342.16 L372.40,345.43 L372.65,348.47 L372.90,351.15 L373.15,353.39 L373.40,355.09 L373.65,356.20 L373.90,356.66 L374.15,356.50 L374.40,355.71 L374.65,354.30 L374.90,352.35 L375.15,349.92 L375.40,347.10 L375.65,344.02 L375.90,340.79 L376.15,337.20 L376.40,333.60 L376.65,330.24 L376.90,327.24 L377.15,324.73 L377.40,322.81 L377.65,321.54 L377.90,321.00 L378.15,321.30 L378.40,322.35 L378.65,324.07 L378.90,326.39 L379.15,329.21 L379.40,332.41 L379.65,335.86 L379.90,339.44 L380.15,342.68 L380.40,345.74 L380.65,348.58 L380.90,351.07 L381.15,353.12 L381.40,354.66 L381.65,355.62 L381.90,355.98 L382.15,355.68 L382.40,354.78 L382.65,353.31 L382.90,351.32 L383.15,348.91 L383.40,346.17 L383.65,343.20 L383.90,340.13 L384.15,336.94 L384.40,333.90 L384.65,331.14 L384.90,328.76 L385.15,326.85 L385.40,325.47 L385.65,324.67 L385.90,324.48 L386.15,324.85 L386.40,325.80 L386.65,327.29 L386.90,329.26 L387.15,331.63 L387.40,334.31 L387.65,337.17 L387.90,340.12 L388.15,343.03 L388.40,345.80 L388.65,348.33 L388.90,350.51 L389.15,352.28 L389.40,353.55 L389.65,354.29 L389.90,354.47 L390.15,354.12 L390.40,353.22 L390.65,351.80 L390.90,349.93 L391.15,347.67 L391.40,345.12 L391.65,342.38 L391.90,339.57 L392.15,336.87 L392.40,334.33 L392.65,332.03 L392.90,330.06 L393.15,328.50 L393.40,327.39 L393.65,326.79 L393.90,326.67 L394.15,326.97 L394.40,327.77 L394.65,329.07 L394.90,330.80 L395.15,332.91 L395.40,335.32 L395.65,337.94 L395.90,340.67 L396.15,343.42 L396.40,346.04 L396.65,348.41 L396.90,350.44 L397.15,352.07 L397.40,353.22 L397.65,353.85 L397.90,353.92 L398.15,353.37 L398.40,352.31 L398.65,350.79 L398.90,348.88 L399.15,346.66 L399.40,344.22 L399.65,341.66 L399.90,338.94 L400.15,336.01 L400.40,333.21 L400.65,330.64 L400.90,328.42 L401.15,326.63 L401.40,325.35 L401.65,324.63 L401.90,324.56 L402.15,325.17 L402.40,326.35 L402.65,328.05 L402.90,330.20 L403.15,332.70 L403.40,335.45 L403.65,338.36 L403.90,340.96 L404.15,343.08 L404.40,345.03 L404.65,346.74 L404.90,348.15 L405.15,349.22 L405.40,349.90 L405.65,350.19 L405.90,350.11 L406.15,349.68 L406.40,348.87 L406.65,347.73 L406.90,346.30 L407.15,344.63 L407.40,342.79 L407.65,340.86 L407.90,338.50 L408.15,335.90 L408.40,333.49 L408.65,331.36 L408.90,329.59 L409.15,328.24 L409.40,327.36 L409.65,326.99 L409.90,327.10 L410.15,327.71 L410.40,328.78 L410.65,330.28 L410.90,332.15 L411.15,334.30 L411.40,336.65 L411.65,339.11 L411.90,341.16 L412.15,342.93 L412.40,344.58 L412.65,346.03 L412.90,347.23 L413.15,348.14 L413.40,348.73 L413.65,348.97 L413.90,348.85 L414.15,348.37 L414.40,347.58 L414.65,346.50 L414.90,345.19 L415.15,343.69 L415.40,342.07 L415.65,340.40 L415.90,338.26 L416.15,336.06 L416.40,334.03 L416.65,332.25 L416.90,330.78 L417.15,329.69 L417.40,329.01 L417.65,328.77 L417.90,328.95 L418.15,329.56 L418.40,330.55 L418.65,331.91 L418.90,333.56 L419.15,335.45 L419.40,337.50 L419.65,339.63 L419.90,341.18 L420.15,342.55 L420.40,343.80 L420.65,344.87 L420.90,345.74 L421.15,346.38 L421.40,346.77 L421.65,346.88 L421.90,346.82 L422.15,346.50 L422.40,345.92 L422.65,345.10 L422.90,344.07 L423.15,342.86 L423.40,341.53 L423.65,339.97 L423.90,337.84 L424.15,335.77 L424.40,333.85 L424.65,332.15 L424.90,330.94 L425.15,330.13 L425.40,329.69 L425.65,329.65 L425.90,330.04 L426.15,330.75 L426.40,331.77 L426.65,333.08 L426.90,334.64 L427.15,336.39 L427.40,338.23 L427.65,340.08 L427.90,341.69 L428.15,343.26 L428.40,344.71 L428.65,346.02 L428.90,347.14 L429.15,348.01 L429.40,348.58 L429.65,348.82 L429.90,348.64 L430.15,348.03 L430.40,347.14 L430.65,345.99 L430.90,344.64 L431.15,343.14 L431.40,341.53 L431.65,339.88 L431.90,338.25 L432.15,336.71 L432.40,335.33 L432.65,334.19 L432.90,333.32 L433.15,332.73 L433.40,332.42 L433.65,332.40 L433.90,332.65 L434.15,333.20 L434.40,334.02 L434.65,335.06 L434.90,336.29 L435.15,337.62 L435.40,338.89 L435.65,340.18 L435.90,341.39 L436.15,342.51 L436.40,343.49 L436.65,344.48 L436.90,345.26 L437.15,345.80 L437.40,346.09 L437.65,346.14 L437.90,346.00 L438.15,345.63 L438.40,345.04 L438.65,344.27 L438.90,343.34 L439.15,342.31 L439.40,341.23 L439.65,340.09 L439.90,338.92 L440.15,337.83 L440.40,336.72 L440.65,335.54 L440.90,334.56 L441.15,333.80 L441.40,333.28 L441.65,333.07 L441.90,333.36 L442.15,333.87 L442.40,334.60 L442.65,335.52 L442.90,336.57 L443.15,337.75 L443.40,338.98 L443.65,340.19 L443.90,341.33 L444.15,342.39 L444.40,343.44 L444.65,344.37 L444.90,345.13 L445.15,345.69 L445.40,346.05 L445.65,345.97 L445.90,345.52 L446.15,344.87 L446.40,344.04 L446.65,343.05 L446.90,342.12 L447.15,341.37 L447.40,340.58 L447.65,339.77 L447.90,339.00 L448.15,338.18 L448.40,336.96 L448.65,335.88 L448.90,334.97 L449.15,334.23 L449.40,333.68 L449.65,333.86 L449.90,334.23 L450.15,334.78 L450.40,335.49 L450.65,336.34 L450.90,337.18 L451.15,338.07 L451.40,339.00 L451.65,339.93 L451.90,340.82 L452.15,341.75 L452.40,342.66 L452.65,343.44 L452.90,344.07 L453.15,344.54 L453.40,344.78 L453.65,344.77 L453.90,344.58 L454.15,344.24 L454.40,343.75 L454.65,343.04 L454.90,341.79 L455.15,340.47 L455.40,339.12 L455.65,337.76 L455.90,336.44 L456.15,335.81 L456.40,335.29 L456.65,334.88 L456.90,334.61 L457.15,334.49 L457.40,334.64 L457.65,334.97 L457.90,335.46 L458.15,336.09 L458.40,336.85 L458.65,337.42 L458.90,337.87 L459.15,338.37 L459.40,338.89 L459.65,339.39 L459.90,339.87 L460.15,340.31 L460.40,340.65 L460.65,340.89 L460.90,341.00 L461.15,341.13 L461.40,341.76 L461.65,342.26 L461.90,342.63 L462.15,342.90 L462.40,343.06 L462.65,342.41 L462.90,341.69 L463.15,340.93 L463.40,340.16 L463.65,339.39 L463.90,338.77 L464.15,338.23 L464.40,337.77 L464.65,337.40 L464.90,337.14 L465.15,336.85 L465.40,336.58 L465.65,336.44 L465.90,336.40 L466.15,336.46 L466.40,336.85 L466.65,337.69 L466.90,338.58 L467.15,339.49 L467.40,340.41 L467.65,341.19 L467.90,341.36 L468.15,341.47 L468.40,341.51 L468.65,341.46 L468.90,341.32 L469.15,341.79 L469.40,342.15 L469.65,342.41 L469.90,342.58 L470.15,342.68 L470.40,341.98 L470.65,341.04 L470.90,340.06 L471.15,339.07 L471.40,338.08 L471.65,337.50 L471.90,337.18 L472.15,336.91 L472.40,336.70 L472.65,336.55 L472.90,336.57 L473.15,336.84 L473.40,337.17 L473.65,337.54 L473.90,337.98 L474.15,338.34 L474.40,338.27 L474.65,338.23 L474.90,338.20 L475.15,338.18 L475.40,338.15 L475.65,338.82 L475.90,339.45 L476.15,340.06 L476.40,340.62 L476.65,341.14 L476.90,341.17 L477.15,341.05 L477.40,340.89 L477.65,340.71 L477.90,340.50 L478.15,340.11 L478.40,339.61 L478.65,339.09 L478.90,338.56 L479.15,338.03 L479.40,337.77 L479.65,337.94 L479.90,338.13 L480.15,338.34 L480.40,338.58 L480.65,338.76 L480.90,338.61 L481.15,338.49 L481.40,338.38 L481.65,338.28 L481.90,338.20 L482.15,338.65 L482.40,339.12 L482.65,339.58 L482.90,340.05 L483.15,340.52 L483.40,340.30 L483.65,339.91 L483.90,339.50 L484.15,339.08 L484.40,338.64 L484.65,338.51 L484.90,338.58 L485.15,338.63 L485.40,338.67 L485.65,338.71 L485.90,338.92 L486.15,339.39 L486.40,339.85 L486.65,340.32 L486.90,340.78 L487.15,341.20 L487.40,341.48 L487.65,341.78 L487.90,342.08 L488.15,342.40 L488.40,342.72 L488.65,342.65 L488.90,342.59 L489.15,342.53 L489.40,342.46 L489.65,342.39 L489.90,341.90 L490.15,341.30 L490.40,340.71 L490.65,340.11 L490.90,339.52 L491.15,339.31 L491.40,339.36 L491.65,339.42 L491.90,339.47 L492.15,339.52 L492.40,339.71 L492.65,340.11 L492.90,340.51 L493.15,340.90 L493.40,341.31 L493.65,341.53 L493.90,341.02 L494.15,340.51 L494.40,340.00 L494.65,339.49 L494.90,338.98 L495.15,338.71 L495.40,338.45 L495.65,338.19 L495.90,337.93 L496.15,337.67 L496.40,337.88 L496.65,338.22 L496.90,338.56 L497.15,338.89 L497.40,339.23 L497.65,339.42 L497.90,339.53 L498.15,339.63 L498.40,339.73 L498.65,339.84 L498.90,339.74 L499.15,339.35 L499.40,338.95 L499.65,338.56 L499.90,338.16 L500.15,337.80 L500.40,337.55 L500.65,337.30 L500.90,337.04 L501.15,336.79 L501.40,336.54 L501.65,336.61 L501.90,336.67 L502.15,336.74 L502.40,336.80 L502.65,336.86 L502.90,337.39 L503.15,338.04 L503.40,338.69 L503.65,339.34 L503.90,339.98 L504.15,339.98 L504.40,339.54 L504.65,339.10 L504.90,338.66 L505.15,338.23 L505.40,338.04 L505.65,338.23 L505.90,338.42 L506.15,338.61 L506.40,338.80 L506.65,338.97 L506.90,339.08 L507.15,339.19 L507.40,339.30 L507.65,339.41 L507.90,339.52 L508.15,339.64 L508.40,339.77 L508.65,339.89 L508.90,340.02 L509.15,340.14 L509.40,339.93 L509.65,339.64 L509.90,339.34 L510.15,339.05 L510.40,338.76 L510.65,338.79 L510.90,339.05 L511.15,339.31 L511.40,339.56 L511.65,339.82 L511.90,339.80 L512.15,339.38 L512.40,338.95 L512.65,338.52 L512.90,338.09 L513.15,337.78 L513.40,337.95 L513.65,338.11 L513.90,338.27 L514.15,338.43 L514.40,338.60 L514.65,338.39 L514.90,338.19 L515.15,337.99 L515.40,337.78 L515.65,337.58 L515.90,338.07 L516.15,338.73 L516.40,339.39 L516.65,340.06 L516.90,340.72 L517.15,340.77 L517.40,340.42 L517.65,340.06 L517.90,339.70 L518.15,339.35 L518.40,339.05 L518.65,338.83 L518.90,338.61 L519.15,338.39 L519.40,338.17 L519.65,338.02 L519.90,338.14 L520.15,338.26 L520.40,338.37 L520.65,338.49 L520.90,338.61 L521.15,338.65 L521.40,338.69 L521.65,338.73 L521.90,338.77 L522.15,338.81 L522.40,339.05 L522.65,339.33 L522.90,339.62 L523.15,339.90 L523.40,340.18 L523.65,339.87 L523.90,339.17 L524.15,338.46 L524.40,337.75 L524.65,337.05 L524.90,336.69 L525.15,336.86 L525.40,337.04 L525.65,337.21 L525.90,337.38 L526.15,337.56 L526.40,337.76 L526.65,337.96 L526.90,338.17 L527.15,338.37 L527.40,338.57 L527.65,339.47 L527.90,340.36 L528.15,341.26 L528.40,342.15 L528.65,343.05 L528.90,342.84 L529.15,342.35 L529.40,341.87 L529.65,341.38 L529.90,340.90 L530.15,340.51 L530.40,340.18 L530.65,339.85 L530.90,339.52 L531.15,339.19 L531.40,339.10 L531.65,339.35 L531.90,339.61 L532.15,339.86 L532.40,340.11 L532.65,340.40 L532.90,340.81 L533.15,341.23 L533.40,341.64 L533.65,342.05 L533.90,342.47 L534.15,341.76 L534.40,341.06 L534.65,340.35 L534.90,339.65 L535.15,338.94 L535.40,338.77 L535.65,338.73 L535.90,338.69 L536.15,338.65 L536.40,338.61 L536.65,338.88 L536.90,339.37 L537.15,339.85 L537.40,340.34 L537.65,340.82 L537.90,341.03 L538.15,340.81 L538.40,340.59 L538.65,340.36 L538.90,340.14 L539.15,339.98 L539.40,340.03 L539.65,340.09 L539.90,340.14 L540.15,340.20 L540.40,340.25 L540.65,339.89 L540.90,339.52 L541.15,339.16 L541.40,338.80 L541.65,338.44 L541.90,338.96 L542.15,339.71 L542.40,340.46 L542.65,341.21 L542.90,341.96 L543.15,342.22 L543.40,342.15 L543.65,342.08 L543.90,342.02 L544.15,341.95 L544.40,341.77 L544.65,341.42 L544.90,341.07 L545.15,340.71 L545.40,340.36 L545.65,340.09 L545.90,340.13 L546.15,340.16 L546.40,340.20 L546.65,340.23 L546.90,340.27 L547.15,339.44 L547.40,338.60 L547.65,337.77 L547.90,336.93 L548.15,336.10 L548.40,336.59 L548.65,337.41 L548.90,338.23 L549.15,339.05 L549.40,339.87 L549.65,340.04 L549.90,339.79 L550.15,339.53 L550.40,339.27 L550.65,339.02 L550.90,338.94 L551.15,339.14 L551.40,339.33 L551.65,339.52 L551.90,339.72 L552.15,339.89 L552.40,339.96 L552.65,340.04 L552.90,340.11 L553.15,340.19 L553.40,340.27 L553.65,339.95 L553.90,339.64 L554.15,339.32 L554.40,339.01 L554.65,338.69 L554.90,338.30 L555.15,337.88 L555.40,337.47 L555.65,337.05 L555.90,336.64 L556.15,336.85 L556.40,337.48 L556.65,338.12 L556.90,338.75 L557.15,339.38 L557.40,339.63 L557.65,339.29 L557.90,338.95 L558.15,338.60 L558.40,338.26 L558.65,338.02 L558.90,338.14 L559.15,338.27 L559.40,338.39 L559.65,338.52 L559.90,338.65 L560.15,338.56 L560.40,338.48 L560.65,338.39 L560.90,338.31 L561.15,338.23 L561.40,338.27 L561.65,338.35 L561.90,338.44 L562.15,338.52 L562.40,338.60 L562.65,338.27 L562.90,337.66 L563.15,337.06 L563.40,336.45 L563.65,335.84 L563.90,335.91 L564.15,337.00 L564.40,338.08 L564.65,339.17 L564.90,340.26 L565.15,341.06 L565.40,340.77 L565.65,340.47 L565.90,340.17 L566.15,339.88 L566.40,339.58 L566.65,339.85 L566.90,340.11 L567.15,340.37 L567.40,340.64 L567.65,340.90 L567.90,341.17 L568.15,341.44 L568.40,341.70 L568.65,341.97 L568.90,342.24 L569.15,341.98 L569.40,341.38 L569.65,340.78 L569.90,340.18 L570.15,339.57 L570.40,338.99 L570.65,338.43 L570.90,337.86 L571.15,337.30 L571.40,336.74 L571.65,336.35 L571.90,336.63 L572.15,336.91 L572.40,337.19 L572.65,337.47 L572.90,337.75 L573.15,337.65 L573.40,337.55 L573.65,337.46 L573.90,337.36 L574.15,337.26 L574.40,337.42 L574.65,337.64 L574.90,337.85 L575.15,338.07 L575.40,338.29 L575.65,338.48 L575.90,338.66 L576.15,338.84 L576.40,339.02 L576.65,339.20 L576.90,339.05 L577.15,338.41 L577.40,337.77 L577.65,337.13 L577.90,336.48 L578.15,336.12 L578.40,336.84 L578.65,337.56 L578.90,338.28 L579.15,339.00 L579.40,339.72 L579.65,339.15 L579.90,338.58 L580.15,338.01 L580.40,337.44 L580.65,336.87 L580.90,337.20 L581.15,337.76 L581.40,338.32 L581.65,338.87 L581.90,339.43 L582.15,339.58 L582.40,339.45 L582.65,339.33 L582.90,339.20 L583.15,339.08 L583.40,338.98 L583.65,338.91 L583.90,338.85 L584.15,338.79 L584.40,338.72 L584.65,338.69 L584.90,338.76 L585.15,338.84 L585.40,338.91 L585.65,338.99 L585.90,339.06 L586.15,338.92 L586.40,338.77 L586.65,338.63 L586.90,338.48 L587.15,338.34 L587.40,338.29 L587.65,338.27 L587.90,338.25 L588.15,338.23 L588.40,338.20 L588.65,338.00 L588.90,337.67 L589.15,337.34 L589.40,337.01 L589.65,336.68 L589.90,336.69 L590.15,337.20 L590.40,337.70 L590.65,338.21 L590.90,338.72 L591.15,339.24 L591.40,339.82 L591.65,340.40 L591.90,340.97 L592.15,341.55 L592.40,342.13 L592.65,342.17 L592.90,342.21 L593.15,342.25 L593.40,342.29 L593.65,342.34 L593.90,342.18 L594.15,341.98 L594.40,341.78 L594.65,341.57 L594.90,341.37 L595.15,341.18 L595.40,340.99 L595.65,340.80 L595.90,340.61 L596.15,340.42 L596.40,340.14 L596.65,339.71 L596.90,339.28 L597.15,338.86 L597.40,338.43 L597.65,338.22 L597.90,338.88 L598.15,339.53 L598.40,340.18 L598.65,340.83 L598.90,341.48 L599.15,341.02 L599.40,340.56 L599.65,340.10 L599.90,339.64 L600.15,339.18 L600.40,339.08 L600.65,339.08 L600.90,339.08 L601.15,339.07 L601.40,339.07 L601.65,339.02 L601.90,338.96 L602.15,338.89 L602.40,338.82 L602.65,338.75 L602.90,338.76 L603.15,338.88 L603.40,338.99 L603.65,339.11 L603.90,339.23 L604.15,339.29 L604.40,339.13 L604.65,338.97 L604.90,338.80 L605.15,338.64 L605.40,338.48 L605.65,338.59 L605.90,338.70 L606.15,338.80 L606.40,338.91 L606.65,339.02 L606.90,338.80 L607.15,338.49 L607.40,338.18 L607.65,337.87 L607.90,337.56 L608.15,337.57 L608.40,337.79 L608.65,338.01 L608.90,338.23 L609.15,338.45 L609.40,338.90 L609.65,339.72 L609.90,340.54 L610.15,341.35 L610.40,342.17 L610.65,342.68 L610.90,341.96 L611.15,341.23 L611.40,340.51 L611.65,339.79 L611.90,339.06 L612.15,339.01 L612.40,338.96 L612.65,338.91 L612.90,338.86 L613.15,338.80 L613.40,338.98 L613.65,339.22 L613.90,339.46 L614.15,339.70 L614.40,339.93 L614.65,340.06 L614.90,340.11 L615.15,340.17 L615.40,340.22 L615.65,340.28 L615.90,340.08 L616.15,339.52 L616.40,338.96 L616.65,338.40 L616.90,337.84 L617.15,337.45 L617.40,337.73 L617.65,338.01 L617.90,338.29 L618.15,338.57 L618.40,338.84 L618.65,339.19 L618.90,339.54 L619.15,339.88 L619.40,340.23 L619.65,340.58 L619.90,340.49 L620.15,340.29 L620.40,340.09 L620.65,339.89 L620.90,339.69 L621.15,339.58 L621.40,339.53 L621.65,339.49 L621.90,339.44 L622.15,339.40 L622.40,339.55 L622.65,339.99 L622.90,340.43 L623.15,340.87 L623.40,341.31 L623.65,341.53 L623.90,340.84 L624.15,340.15 L624.40,339.46 L624.65,338.78 L624.90,338.09 L625.15,338.33 L625.40,338.56 L625.65,338.79 L625.90,339.03 L626.15,339.26 L626.40,339.16 L626.65,338.97 L626.90,338.79 L627.15,338.60 L627.40,338.42 L627.65,338.72 L627.90,339.33 L628.15,339.95 L628.40,340.57 L628.65,341.19 L628.90,341.14 L629.15,340.08 L629.40,339.02 L629.65,337.96 L629.90,336.90 L630.15,336.13 L630.40,336.53 L630.65,336.92 L630.90,337.32 L631.15,337.71 L631.40,338.10 L631.65,338.15 L631.90,338.19 L632.15,338.23 L632.40,338.28 L632.65,338.32 L632.90,338.62 L633.15,338.99 L633.40,339.36 L633.65,339.72 L633.90,340.09 L634.15,340.23 L634.40,340.21 L634.65,340.19 L634.90,340.17 L635.15,340.16 L635.40,340.24 L635.65,340.49 L635.90,340.73 L636.15,340.97 L636.40,341.21 L636.65,341.23 L636.90,340.31 L637.15,339.40 L637.40,338.48 L637.65,337.57 L637.90,336.66 L638.15,337.37 L638.40,338.09 L638.65,338.80 L638.90,339.52 L639.15,340.23 L639.40,340.12 L639.65,339.80 L639.90,339.48 L640.15,339.16 L640.40,338.84 L640.65,338.64 L640.90,338.52 L641.15,338.41 L641.40,338.29 L641.65,338.18 L641.90,338.26 L642.15,338.63 L642.40,339.00 L642.65,339.37 L642.90,339.74 L643.15,339.95 L643.40,339.50 L643.65,339.05 L643.90,338.60 L644.15,338.15 L644.40,337.70 L644.65,337.35 L644.90,336.99 L645.15,336.64 L645.40,336.28 L645.65,335.92 L645.90,336.27 L646.15,336.80 L646.40,337.32 L646.65,337.85 L646.90,338.37 L647.15,338.38 L647.40,338.03 L647.65,337.68 L647.90,337.33 L648.15,336.99 L648.40,336.88 L648.65,337.15 L648.90,337.41 L649.15,337.67 L649.40,337.93 L649.65,338.20 L649.90,338.51 L650.15,338.83 L650.40,339.14 L650.65,339.46 L650.90,339.77 L651.15,339.75 L651.40,339.73 L651.65,339.72 L651.90,339.70 L652.15,339.68 L652.40,339.99 L652.65,340.38 L652.90,340.77 L653.15,341.17 L653.40,341.56 L653.65,341.39 L653.90,340.84 L654.15,340.29 L654.40,339.74 L654.65,339.19 L654.90,338.69 L655.15,338.28 L655.40,337.87 L655.65,337.46 L655.90,337.05 L656.15,336.77 L656.40,337.01 L656.65,337.25 L656.90,337.49 L657.15,337.73 L657.40,337.97 L657.65,337.92 L657.90,337.87 L658.15,337.82 L658.40,337.77 L658.65,337.72 L658.90,337.63 L659.15,337.54 L659.40,337.45 L659.65,337.36 L659.90,337.26 L660.15,337.53 L660.40,338.04 L660.65,338.55 L660.90,339.06 L661.15,339.57 L661.40,339.74 L661.65,339.41 L661.90,339.07 L662.15,338.74 L662.40,338.41 L662.65,338.06 L662.90,337.65 L663.15,337.24 L663.40,336.83 L663.65,336.42 L663.90,336.01 L664.15,336.84 L664.40,337.66 L664.65,338.48 L664.90,339.30 L665.15,340.13 L665.40,340.09 L665.65,339.84 L665.90,339.59 L666.15,339.35 L666.40,339.10 L666.65,339.08 L666.90,339.23 L667.15,339.37 L667.40,339.52 L667.65,339.66 L667.90,339.72 L668.15,339.64 L668.40,339.56 L668.65,339.48 L668.90,339.41 L669.15,339.38 L669.40,339.54 L669.65,339.70 L669.90,339.86 L670.15,340.02 L670.40,340.19 L670.65,340.00 L670.90,339.82 L671.15,339.64 L671.40,339.46 L671.65,339.27 L671.90,339.53 L672.15,339.90 L672.40,340.27 L672.65,340.64 L672.90,341.01 L673.15,341.00 L673.40,340.75 L673.65,340.50 L673.90,340.26 L674.15,340.01 L674.40,339.85 L674.65,339.84 L674.90,339.83 L675.15,339.82 L675.40,339.81 L675.65,339.80 L675.90,339.81 L676.15,339.82 L676.40,339.82 L676.65,339.83 L676.90,339.83 L677.15,339.26 L677.40,338.68 L677.65,338.11 L677.90,337.53 L678.15,336.96 L678.40,337.16 L678.65,337.56 L678.90,337.96 L679.15,338.36 L679.40,338.75 L679.65,338.90 L679.90,338.87 L680.15,338.84 L680.40,338.81 L680.65,338.78 L680.90,338.82 L681.15,338.96 L681.40,339.11 L681.65,339.25 L681.90,339.39 L682.15,339.41 L682.40,338.93 L682.65,338.45 L682.90,337.97 L683.15,337.48 L683.40,337.00 L683.65,337.92 L683.90,338.84 L684.15,339.76 L684.40,340.69 L684.65,341.61 L684.90,341.41 L685.15,340.94 L685.40,340.47 L685.65,340.00 L685.90,339.53 L686.15,339.10 L686.40,338.70 L686.65,338.29 L686.90,337.89 L687.15,337.48 L687.40,337.18 L687.65,337.02 L687.90,336.87 L688.15,336.72 L688.40,336.56 L688.65,336.53 L688.90,336.97 L689.15,337.41 L689.40,337.85 L689.65,338.29 L689.90,338.73 L690.15,338.78 L690.40,338.84 L690.65,338.90 L690.90,338.96 L691.15,339.02 L691.40,338.88 L691.65,338.68 L691.90,338.49 L692.15,338.30 L692.40,338.10 L692.65,338.18 L692.90,338.43 L693.15,338.68 L693.40,338.92 L693.65,339.17 L693.90,339.23 L694.15,339.01 L694.40,338.78 L694.65,338.56 L694.90,338.33 L695.15,338.22 L695.40,338.59 L695.65,338.96 L695.90,339.32 L696.15,339.69 L696.40,340.06 L696.65,339.67 L696.90,339.27 L697.15,338.88 L697.40,338.49 L697.65,338.10 L697.90,338.19 L698.15,338.40 L698.40,338.61 L698.65,338.82 L698.90,339.03 L699.15,339.30 L699.40,339.62 L699.65,339.93 L699.90,340.24 L700.15,340.55 L700.40,340.94 L700.65,341.43 L700.90,341.92 L701.15,342.41 L701.40,342.90 L701.65,343.07 L701.90,341.97 L702.15,340.87 L702.40,339.77 L702.65,338.67 L702.90,337.56 L703.15,337.73 L703.40,337.90 L703.65,338.07 L703.90,338.23 L704.15,338.40 L704.40,338.34 L704.65,338.22 L704.90,338.11 L705.15,337.99 L705.40,337.88 L705.65,338.13 L705.90,338.63 L706.15,339.13 L706.40,339.63 L706.65,340.13 L706.90,340.19 L707.15,339.60 L707.40,339.00 L707.65,338.41 L707.90,337.81 L708.15,337.38 L708.40,337.58 L708.65,337.79 L708.90,337.99 L709.15,338.20 L709.40,338.40 L709.65,338.54 L709.90,338.68 L710.15,338.82 L710.40,338.96 L710.65,339.10 L710.90,338.90 L711.15,338.60 L711.40,338.31 L711.65,338.02 L711.90,337.73 L712.15,337.61 L712.40,337.62 L712.65,337.63 L712.90,337.63 L713.15,337.64 L713.40,337.70 L713.65,337.85 L713.90,338.00 L714.15,338.15 L714.40,338.30 L714.65,338.32 L714.90,337.82 L715.15,337.32 L715.40,336.82 L715.65,336.32 L715.90,335.82 L716.15,336.02 L716.40,336.22 L716.65,336.42 L716.90,336.62 L717.15,336.82 L717.40,337.12 L717.65,337.44 L717.90,337.75 L718.15,338.07 L718.40,338.39 L718.65,338.62 L718.90,338.79 L719.15,338.96 L719.40,339.14 L719.65,339.31 L719.90,339.37 L720.15,339.27 L720.40,339.17 L720.65,339.06 L720.90,338.96 L721.15,338.78 L721.40,338.29 L721.65,337.80 L721.90,337.32 L722.15,336.83 L722.40,336.34 L722.65,336.74 L722.90,337.14 L723.15,337.55 L723.40,337.95 L723.65,338.35 L723.90,338.74 L724.15,339.13 L724.40,339.52 L724.65,339.91 L724.90,340.30 L725.15,340.41 L725.40,340.33 L725.65,340.26 L725.90,340.18 L726.15,340.11 L726.40,339.99 L726.50,339.98 L726.75,342.71 L727.00,345.44 L727.25,348.17 L727.50,350.91 L727.75,356.61 L728.00,364.29 L728.25,371.96 L728.50,379.64 L728.75,387.32 L729.00,395.00 L729.25,402.68 L729.50,410.36 L729.75,418.04 L730.00,425.71 L730.25,433.39 L730.50,441.07 L730.75,448.75 L731.00,456.43 L731.25,464.11 L731.50,471.79 L731.75,479.46 L732.00,487.14 L732.25,494.82 L732.50,502.50 L732.75,510.18 L733.00,517.86 L733.25,524.33 L733.50,526.00 L733.75,527.67 L734.00,529.33 L734.25,534.76 L734.50,542.68 L734.75,550.61 L735.00,558.54 L735.25,566.46 L735.50,574.39 L735.75,582.32 L736.00,590.24 L736.25,598.17 L736.50,606.10 L736.75,614.02 L737.00,621.95 L737.25,629.88 L737.50,637.80 L737.75,645.73 L738.00,653.66 L738.25,661.27 L738.50,667.59 L738.75,673.92 L739.00,680.25 L739.25,686.58 L739.50,692.91 L739.75,699.23 L740.00,705.56 L740.25,711.89 L740.50,718.22 L740.75,724.55 L741.00,730.87 L741.25,737.20 L741.50,743.53 L741.75,749.86 L742.00,756.19 L742.25,762.52 L742.50,768.84 L742.75,775.17 L743.00,781.50 L743.25,787.83 L743.50,794.16 L743.75,800.48 L744.00,806.81 L744.25,813.14 L744.50,819.47 L744.60,822.00 L744.85,831.37 L745.10,839.04 L745.35,844.73 L745.60,848.12 L745.85,848.94 L746.10,847.12 L746.35,843.31 L746.60,838.30 L746.85,832.86 L747.10,827.76 L747.35,823.37 L747.60,818.47 L747.85,813.13 L748.10,807.56 L748.35,802.03 L748.60,796.74 L748.85,791.96 L749.10,787.90 L749.35,784.80 L749.60,782.90 L749.85,782.44 L750.10,783.88 L750.35,787.01 L750.60,791.37 L750.85,796.51 L751.10,801.96 L751.35,807.28 L751.60,812.00 L751.85,816.87 L752.10,822.56 L752.35,828.45 L752.60,833.95 L752.85,838.47 L753.10,841.40 L753.35,842.16 L753.60,840.91 L753.85,838.19 L754.10,834.39 L754.35,829.91 L754.60,825.16 L754.85,820.53 L755.10,816.41 L755.35,812.91 L755.60,809.07 L755.85,804.99 L756.10,800.89 L756.35,796.99 L756.60,793.51 L756.85,790.68 L757.10,788.71 L757.35,787.83 L757.60,788.26 L757.85,789.99 L758.10,792.73 L758.35,796.18 L758.60,800.06 L758.85,804.08 L759.10,807.96 L759.35,811.39 L759.60,814.60 L759.85,818.29 L760.10,822.16 L760.35,825.89 L760.60,829.14 L760.85,831.58 L761.10,832.88 L761.35,832.43 L761.60,829.21 L761.85,823.65 L762.10,816.32 L762.35,807.80 L762.40,806.00 L762.65,799.60 L762.90,793.19 L763.15,786.79 L763.40,780.39 L763.65,773.98 L763.90,767.58 L764.15,761.18 L764.40,754.77 L764.65,748.37 L764.90,741.96 L765.15,735.56 L765.40,729.16 L765.65,722.75 L765.90,716.35 L766.15,709.95 L766.40,703.54 L766.65,697.14 L766.90,690.74 L767.15,684.33 L767.40,677.93 L767.65,671.53 L767.90,665.12 L768.15,658.63 L768.40,651.76 L768.65,644.90 L768.90,638.04 L769.15,631.18 L769.40,624.31 L769.65,617.45 L769.90,610.59 L770.15,603.73 L770.40,596.86 L770.65,590.00 L770.90,583.14 L771.15,576.27 L771.40,569.41 L771.65,562.55 L771.90,555.69 L772.15,548.82 L772.40,541.96 L772.65,535.10 L772.90,528.24 L773.15,521.37 L773.40,514.51 L773.65,507.65 L773.90,500.78 L774.15,493.92 L774.40,487.06 L774.65,480.20 L774.90,473.33 L775.15,466.47 L775.40,459.61 L775.65,452.75 L775.90,445.88 L776.15,439.02 L776.40,432.16 L776.65,425.29 L776.90,418.43 L777.15,411.57 L777.40,404.71 L777.65,397.84 L777.90,390.98 L778.15,384.12 L778.40,377.25 L778.65,370.39 L778.90,363.53 L779.15,356.67 L779.40,349.80 L779.65,342.94 L779.90,336.08 L780.15,329.22 L780.40,322.35 L780.65,315.49 L780.90,308.63 L781.15,301.76 L781.40,294.90 L781.65,288.04 L781.90,281.18 L782.15,274.31 L782.40,267.45 L782.65,260.59 L782.90,253.73 L783.15,246.86 L783.40,240.00 L783.65,233.00 L783.90,226.00 L784.15,219.00 L784.40,212.00 L784.65,205.00 L784.90,198.00 L785.15,191.00 L785.40,184.00 L785.65,177.00 L785.90,170.00 L786.15,163.00 L786.40,156.00 L786.65,149.00 L786.90,142.00 L787.15,135.00 L787.40,128.00 L787.65,121.00 L787.90,114.00 L788.15,107.00 L788.40,100.00 L788.65,91.55 L788.90,83.99 L789.15,77.42 L789.40,71.76 L789.65,66.08 L789.90,62.31 L790.00,62.56 L790.25,63.26 L790.50,65.13 L790.75,68.12 L791.00,72.14 L791.25,77.06 L791.50,82.74 L791.75,89.00 L792.00,95.66 L792.25,102.53 L792.50,108.75 L792.75,114.71 L793.00,120.34 L793.25,125.48 L793.50,129.97 L793.75,133.69 L794.00,136.52 L794.25,138.38 L794.50,139.22 L794.75,139.05 L795.00,137.85 L795.25,135.64 L795.50,132.47 L795.75,128.45 L796.00,123.68 L796.25,118.30 L796.50,112.47 L796.75,106.36 L797.00,99.94 L797.25,93.47 L797.50,87.33 L797.75,81.70 L798.00,76.73 L798.25,72.57 L798.50,69.35 L798.75,67.14 L799.00,66.01 L799.25,65.96 L799.50,66.98 L799.75,69.08 L800.00,72.18 L800.25,76.20 L800.50,81.02 L800.75,86.50 L801.00,92.47 L801.25,98.75 L801.50,105.16 L801.75,111.52 L802.00,117.66 L802.25,123.40 L802.50,128.57 L802.75,133.03 L803.00,136.63 L803.25,139.27 L803.50,140.86 L803.75,141.34 L804.00,140.52 L804.25,138.62 L804.50,135.71 L804.75,131.89 L805.00,127.26 L805.25,121.98 L805.50,116.21 L805.75,110.11 L806.00,103.88 L806.25,97.57 L806.50,91.44 L806.75,85.68 L807.00,80.45 L807.25,75.91 L807.50,72.19 L807.75,69.39 L808.00,67.61 L808.25,66.88 L808.50,67.21 L808.75,68.60 L809.00,71.02 L809.25,74.40 L809.50,78.63 L809.75,83.60 L810.00,89.16 L810.25,95.13 L810.50,101.36 L810.75,107.28 L811.00,112.84 L811.25,118.08 L811.50,122.84 L811.75,126.99 L812.00,130.42 L812.25,133.02 L812.50,134.74 L812.75,135.53 L813.00,135.45 L813.25,134.51 L813.50,132.66 L813.75,129.96 L814.00,126.48 L814.25,122.33 L814.50,117.62 L814.75,112.51 L815.00,107.13 L815.25,101.36 L815.50,95.13 L815.75,89.16 L816.00,83.60 L816.25,78.63 L816.50,74.40 L816.75,71.02 L817.00,68.60 L817.25,67.21 L817.50,66.90 L817.75,67.73 L818.00,69.60 L818.25,72.47 L818.50,76.23 L818.75,80.78 L819.00,85.98 L819.25,91.68 L819.50,97.70 L819.75,103.84 L820.00,109.30 L820.25,114.59 L820.50,119.56 L820.75,124.06 L821.00,127.96 L821.25,131.14 L821.50,133.51 L821.75,135.00 L822.00,135.56 L822.25,135.13 L822.50,133.77 L822.75,131.53 L823.00,128.47 L823.25,124.70 L823.50,120.32 L823.75,115.46 L824.00,110.28 L824.25,104.91 L824.50,99.12 L824.75,93.34 L825.00,87.89 L825.25,82.92 L825.50,78.57 L825.75,74.98 L826.00,72.25 L826.25,70.44 L826.50,69.61 L826.75,69.78 L827.00,70.93 L827.25,73.04 L827.50,76.03 L827.75,79.82 L828.00,84.29 L828.25,89.32 L828.50,94.74 L828.75,100.41 L829.00,105.90 L829.25,111.02 L829.50,115.90 L829.75,120.39 L830.00,124.37 L830.25,127.73 L830.50,130.36 L830.75,132.20 L831.00,133.19 L831.25,133.30 L831.50,132.53 L831.75,130.91 L832.00,128.50 L832.25,125.37 L832.50,121.62 L832.75,117.35 L833.00,112.70 L833.25,107.81 L833.50,102.73 L833.75,97.23 L834.00,91.94 L834.25,87.01 L834.50,82.58 L834.75,78.79 L835.00,75.73 L835.25,73.51 L835.50,72.17 L835.75,71.76 L836.00,72.29 L836.25,73.73 L836.50,76.04 L836.75,79.15 L837.00,82.96 L837.25,87.37 L837.50,92.24 L837.75,97.42 L838.00,102.76 L838.25,107.59 L838.50,112.19 L838.75,116.52 L839.00,120.44 L839.25,123.84 L839.50,126.64 L839.75,128.74 L840.00,130.09 L840.25,130.65 L840.50,130.47 L840.75,129.52 L841.00,127.80 L841.25,125.38 L841.50,122.31 L841.75,118.69 L842.00,114.63 L842.25,110.24 L842.50,105.66 L842.75,100.72 L843.00,95.64 L843.25,90.81 L843.50,86.38 L843.75,82.47 L844.00,79.19 L844.25,76.64 L844.50,74.89 L844.75,73.99 L845.00,73.96 L845.25,74.80 L845.50,76.48 L845.75,78.95 L846.00,82.13 L846.25,85.93 L846.50,90.23 L846.75,94.91 L847.00,99.82 L847.25,104.73 L847.50,109.33 L847.75,113.77 L848.00,117.91 L848.25,121.63 L848.50,124.81 L848.75,127.37 L849.00,129.24 L849.25,130.34 L849.50,130.65 L849.75,130.12 L850.00,128.81 L850.25,126.76 L850.50,124.04 L850.75,120.74 L851.00,116.94 L851.25,112.77 L851.50,108.34 L851.75,103.79 L852.00,99.02 L852.25,94.39 L852.50,90.04 L852.75,86.12 L853.00,82.72 L853.25,79.95 L853.50,77.88 L853.75,76.57 L854.00,76.07 L854.25,76.33 L854.50,77.39 L854.75,79.21 L855.00,81.75 L855.25,84.93 L855.50,88.65 L855.75,92.80 L856.00,97.27 L856.25,101.92 L856.50,106.40 L856.75,110.67 L857.00,114.71 L857.25,118.41 L857.50,121.65 L857.75,124.35 L858.00,126.43 L858.25,127.82 L858.50,128.50 L858.75,128.46 L859.00,127.70 L859.25,126.23 L859.50,124.10 L859.75,121.37 L860.00,118.13 L860.25,114.46 L860.50,110.49 L860.75,106.32 L861.00,101.94 L861.25,97.34 L861.50,92.93 L861.75,88.84 L862.00,85.18 L862.25,82.07 L862.50,79.59 L862.75,77.82 L863.00,76.81 L863.25,76.59 L863.50,77.19 L863.75,78.57 L864.00,80.67 L864.25,83.44 L864.50,86.79 L864.75,90.62 L865.00,94.81 L865.25,99.25 L865.50,103.77 L865.75,107.89 L866.00,111.88 L866.25,115.61 L866.50,118.97 L866.75,121.88 L867.00,124.24 L867.25,125.99 L867.50,127.07 L867.75,127.46 L868.00,127.13 L868.25,126.10 L868.50,124.42 L868.75,122.13 L869.00,119.31 L869.25,116.04 L869.50,112.42 L869.75,108.56 L870.00,104.57 L870.25,100.28 L870.50,96.00 L870.75,91.96 L871.00,88.28 L871.25,85.06 L871.50,82.40 L871.75,80.36 L872.00,79.02 L872.25,78.40 L872.50,78.54 L872.75,79.41 L873.00,80.99 L873.25,83.22 L873.50,86.03 L873.75,89.35 L874.00,93.06 L874.25,97.07 L874.50,101.24 L874.75,105.28 L875.00,109.04 L875.25,112.62 L875.50,115.92 L875.75,118.83 L876.00,121.28 L876.25,123.20 L876.50,124.54 L876.75,125.25 L877.00,125.31 L877.25,124.71 L877.50,123.50 L877.75,121.71 L878.00,119.41 L878.25,116.66 L878.50,113.55 L878.75,110.17 L879.00,106.63 L879.25,102.96 L879.50,98.99 L879.75,95.17 L880.00,91.62 L880.25,88.45 L880.50,85.73 L880.75,83.55 L881.00,81.97 L881.25,81.03 L881.50,80.76 L881.75,81.09 L882.00,82.07 L882.25,83.69 L882.50,85.89 L882.75,88.62 L883.00,91.78 L883.25,95.30 L883.50,99.07 L883.75,102.97 L884.00,106.37 L884.25,109.57 L884.50,112.56 L884.75,115.27 L885.00,117.60 L885.25,119.50 L885.50,120.92 L885.75,121.81 L886.00,122.17 L886.25,122.03 L886.50,121.39 L886.75,120.21 L887.00,118.55 L887.25,116.45 L887.50,113.96 L887.75,111.17 L888.00,108.16 L888.25,105.00 L888.50,101.38 L888.75,97.46 L889.00,93.73 L889.25,90.27 L889.50,87.20 L889.75,84.61 L890.00,82.58 L890.25,81.16 L890.50,80.40 L890.75,80.36 L891.00,81.08 L891.25,82.45 L891.50,84.43 L891.75,86.95 L892.00,89.93 L892.25,93.29 L892.50,96.91 L892.75,100.69 L893.00,104.37 L893.25,107.56 L893.50,110.63 L893.75,113.50 L894.00,116.08 L894.25,118.29 L894.50,120.07 L894.75,121.36 L895.00,122.14 L895.25,122.36 L895.50,122.02 L895.75,121.14 L896.00,119.74 L896.25,117.87 L896.50,115.58 L896.75,112.94 L897.00,110.02 L897.25,106.92 L897.50,103.72 L897.75,100.28 L898.00,96.96 L898.25,93.87 L898.50,91.10 L898.75,88.72 L899.00,86.81 L899.25,85.40 L899.50,84.54 L899.75,84.25 L900.00,84.45 L900.25,85.19 L900.50,86.47 L900.75,88.25 L901.00,90.48 L901.25,93.09 L901.50,96.01 L901.75,99.15 L902.00,102.41 L902.25,105.63 L902.50,108.75 L902.75,111.72 L903.00,114.44 L903.25,116.84 L903.50,118.85 L903.75,120.40 L904.00,121.47 L904.25,122.00 L904.50,121.95 L904.75,121.32 L905.00,120.18 L905.25,118.56 L905.50,116.52 L905.75,114.12 L906.00,111.44 L906.25,108.55 L906.50,105.54 L906.75,102.42 L907.00,99.19 L907.25,96.08 L907.50,93.20 L907.75,90.63 L908.00,88.44 L908.25,86.70 L908.50,85.45 L908.75,84.74 L909.00,84.59 L909.25,85.05 L909.50,86.04 L909.75,87.55 L910.00,89.51 L910.25,91.87 L910.50,94.55 L910.75,97.48 L911.00,100.57 L911.25,103.70 L911.50,106.42 L911.75,109.02 L912.00,111.44 L912.25,113.60 L912.50,115.43 L912.75,116.90 L913.00,117.96 L913.25,118.59 L913.50,118.77 L913.75,118.55 L914.00,117.89 L914.25,116.82 L914.50,115.37 L914.75,113.57 L915.00,111.49 L915.25,109.19 L915.50,106.74 L915.75,104.20 L916.00,101.37 L916.25,98.53 L916.50,95.86 L916.75,93.44 L917.00,91.33 L917.25,89.60 L917.50,88.29 L917.75,87.45 L918.00,87.08 L918.25,87.12 L918.50,87.61 L918.75,88.57 L919.00,89.97 L919.25,91.79 L919.50,93.96 L919.75,96.43 L920.00,99.13 L920.25,101.97 L920.50,104.65 L920.75,107.04 L921.00,109.30 L921.25,111.39 L921.50,113.23 L921.75,114.79 L922.00,116.00 L922.25,116.84 L922.50,117.29 L922.75,117.36 L923.00,117.09 L923.25,116.42 L923.50,115.37 L923.75,113.95 L924.00,112.22 L924.25,110.22 L924.50,108.00 L924.75,105.64 L925.00,103.10 L925.25,100.05 L925.50,97.09 L925.75,94.30 L926.00,91.76 L926.25,89.56 L926.50,87.77 L926.75,86.42 L927.00,85.58 L927.25,85.26 L927.50,85.58 L927.75,86.42 L928.00,87.77 L928.25,89.56 L928.50,91.76 L928.75,94.30 L929.00,97.09 L929.25,100.05 L929.50,103.10 L929.75,105.81 L930.00,108.40 L930.25,110.87 L930.50,113.14 L930.75,115.14 L931.00,116.82 L931.25,118.12 L931.50,119.00 L931.75,119.43 L932.00,119.31 L932.25,118.70 L932.50,117.65 L932.75,116.19 L933.00,114.38 L933.25,112.26 L933.50,109.90 L933.75,107.37 L934.00,104.75 L934.25,101.97 L934.50,99.13 L934.75,96.43 L935.00,93.96 L935.25,91.79 L935.50,89.97 L935.75,88.57 L936.00,87.61 L936.25,87.12 L936.50,87.07 L936.75,87.43 L937.00,88.28 L937.25,89.58 L937.50,91.31 L937.75,93.41 L938.00,95.84 L938.25,98.51 L938.50,101.36 L938.75,104.18 L939.00,106.60 L939.25,108.91 L939.50,111.05 L939.75,112.95 L940.00,114.56 L940.25,115.84 L940.50,116.74 L940.75,117.25 L941.00,117.36 L941.25,117.12 L941.50,116.48 L941.75,115.46 L942.00,114.08 L942.25,112.40 L942.50,110.46 L942.75,108.32 L943.00,106.04 L943.25,103.68 L943.50,100.53 L943.75,97.40 L944.00,94.43 L944.25,91.71 L944.50,89.31 L944.75,87.31 L945.00,85.78 L945.25,84.76 L945.50,84.29 L945.75,84.51 L946.00,85.31 L946.25,86.64 L946.50,88.46 L946.75,90.70 L947.00,93.31 L947.25,96.19 L947.50,99.27 L947.75,102.45 L948.00,105.10 L948.25,107.42 L948.50,109.63 L948.75,111.66 L949.00,113.45 L949.25,114.95 L949.50,116.11 L949.75,116.91 L950.00,117.31 L950.25,117.31 L950.50,116.91 L950.75,116.11 L951.00,114.95 L951.25,113.45 L951.50,111.66 L951.75,109.63 L952.00,107.42 L952.25,105.10 L952.50,102.53 L952.75,99.64 L953.00,96.88 L953.25,94.35 L953.50,92.11 L953.75,90.22 L954.00,88.74 L954.25,87.71 L954.50,87.16 L954.75,87.07 L955.00,87.41 L955.25,88.23 L955.50,89.49 L955.75,91.17 L956.00,93.21 L956.25,95.56 L956.50,98.14 L956.75,100.88 L957.00,103.68 L957.25,106.04 L957.50,108.32 L957.75,110.46 L958.00,112.40 L958.25,114.08 L958.50,115.46 L958.75,116.48 L959.00,117.12 L959.25,117.36 L959.50,117.20 L959.75,116.64 L960.00,115.69 L960.25,114.38 L960.50,112.76 L960.75,110.87 L961.00,108.76 L961.25,106.50 L961.50,104.16 L961.75,101.45 L962.00,98.68 L962.25,96.06 L962.50,93.66 L962.75,91.55 L963.00,89.80 L963.25,88.44 L963.50,87.54 L963.75,87.10 L964.00,87.15 L964.25,87.68 L964.50,88.68 L964.75,90.12 L965.00,91.95 L965.25,94.12 L965.50,96.57 L965.75,99.23 L966.00,102.01 L966.25,104.63 L966.50,106.96 L966.75,109.20 L967.00,111.27 L967.25,113.11 L967.50,114.67 L967.75,115.91 L968.00,116.78 L968.25,117.26 L968.50,117.33 L968.75,116.95 L969.00,116.18 L969.25,115.05 L969.50,113.59 L969.75,111.85 L970.00,109.88 L970.25,107.74 L970.50,105.50 L970.75,103.14 L971.00,100.33 L971.25,97.61 L971.50,95.07 L971.75,92.78 L972.00,90.80 L972.25,89.20 L972.50,88.03 L972.75,87.31 L973.00,87.06 L973.25,87.33 L973.50,88.06 L973.75,89.25 L974.00,90.86 L974.25,92.84 L974.50,95.13 L974.75,97.66 L975.00,100.36 L975.25,103.14 L975.50,105.33 L975.75,107.35 L976.00,109.23 L976.25,110.93 L976.50,112.40 L976.75,113.60 L977.00,114.49 L977.25,115.05 L977.50,115.27 L977.75,115.18 L978.00,114.77 L978.25,114.03 L978.50,112.98 L978.75,111.66 L979.00,110.10 L979.25,108.34 L979.50,106.45 L979.75,104.47 L980.00,102.06 L980.25,99.37 L980.50,96.81 L980.75,94.46 L981.00,92.38 L981.25,90.63 L981.50,89.27 L981.75,88.33 L982.00,87.84 L982.25,87.80 L982.50,88.22 L982.75,89.09 L983.00,90.38 L983.25,92.06 L983.50,94.08 L983.75,96.38 L984.00,98.89 L984.25,101.54 L984.50,104.07 L984.75,106.06 L985.00,107.97 L985.25,109.76 L985.50,111.36 L985.75,112.74 L986.00,113.84 L986.25,114.65 L986.50,115.12 L986.75,115.27 L987.00,115.10 L987.25,114.59 L987.50,113.75 L987.75,112.60 L988.00,111.18 L988.25,109.53 L988.50,107.69 L988.75,105.72 L989.00,103.67 L989.25,101.00 L989.50,98.37 L989.75,95.90 L990.00,93.65 L990.25,91.70 L990.50,90.09 L990.75,88.88 L991.00,88.10 L991.25,87.77 L991.50,87.95 L991.75,88.58 L992.00,89.66 L992.25,91.13 L992.50,92.97 L992.75,95.10 L993.00,97.47 L993.25,100.01 L993.50,102.64 L993.75,104.99 L994.00,107.15 L994.25,109.21 L994.50,111.12 L994.75,112.82 L995.00,114.26 L995.25,115.39 L995.50,116.18 L995.75,116.60 L996.00,116.60 L996.25,116.19 L996.50,115.41 L996.75,114.28 L997.00,112.85 L997.25,111.15 L997.50,109.23 L997.75,107.16 L998.00,104.99 L998.25,102.68 L998.50,100.21 L998.75,97.84 L999.00,95.66 L999.25,93.72 L999.50,92.08 L999.75,90.78 L1000.00,89.87 L1000.25,89.37 L1000.50,89.28 L1000.75,89.59 L1001.00,90.32 L1001.25,91.43 L1001.50,92.89 L1001.75,94.66 L1002.00,96.69 L1002.25,98.92 L1002.50,101.27 L1002.75,103.67 L1003.00,105.76" fill="none" stroke="#00cc00" stroke-width="1.8" stroke-linejoin="round"/>
<line x1="123.0" y1="339.98" x2="1004.4" y2="339.98" stroke="#000" stroke-width="3.7" stroke-dasharray="19 18.76"/>
<line x1="123.0" y1="103.56" x2="1004.4" y2="103.56" stroke="#2b2bf6" stroke-width="3.7" stroke-dasharray="19 18.76"/>
<!-- ticks -->
<line x1="123.0" y1="845.63" x2="134.50" y2="845.63" stroke="#222" stroke-width="1.3"/>
<line x1="123.0" y1="812.80" x2="141.50" y2="812.80" stroke="#000" stroke-width="3.9"/>
<line x1="123.0" y1="779.96" x2="134.50" y2="779.96" stroke="#222" stroke-width="1.3"/>
<line x1="123.0" y1="747.13" x2="134.50" y2="747.13" stroke="#222" stroke-width="1.3"/>
<line x1="123.0" y1="714.29" x2="134.50" y2="714.29" stroke="#222" stroke-width="1.3"/>
<line x1="123.0" y1="681.46" x2="141.50" y2="681.46" stroke="#000" stroke-width="3.9"/>
<line x1="123.0" y1="648.62" x2="134.50" y2="648.62" stroke="#222" stroke-width="1.3"/>
<line x1="123.0" y1="615.79" x2="134.50" y2="615.79" stroke="#222" stroke-width="1.3"/>
<line x1="123.0" y1="582.95" x2="134.50" y2="582.95" stroke="#222" stroke-width="1.3"/>
<line x1="123.0" y1="550.12" x2="141.50" y2="550.12" stroke="#000" stroke-width="3.9"/>
<line x1="123.0" y1="517.28" x2="134.50" y2="517.28" stroke="#222" stroke-width="1.3"/>
<line x1="123.0" y1="484.45" x2="134.50" y2="484.45" stroke="#222" stroke-width="1.3"/>
<line x1="123.0" y1="451.62" x2="134.50" y2="451.62" stroke="#222" stroke-width="1.3"/>
<line x1="123.0" y1="418.78" x2="141.50" y2="418.78" stroke="#000" stroke-width="3.9"/>
<line x1="123.0" y1="385.94" x2="134.50" y2="385.94" stroke="#222" stroke-width="1.3"/>
<line x1="123.0" y1="353.11" x2="134.50" y2="353.11" stroke="#222" stroke-width="1.3"/>
<line x1="123.0" y1="320.27" x2="134.50" y2="320.27" stroke="#222" stroke-width="1.3"/>
<line x1="123.0" y1="287.44" x2="141.50" y2="287.44" stroke="#000" stroke-width="3.9"/>
<line x1="123.0" y1="254.61" x2="134.50" y2="254.61" stroke="#222" stroke-width="1.3"/>
<line x1="123.0" y1="221.77" x2="134.50" y2="221.77" stroke="#222" stroke-width="1.3"/>
<line x1="123.0" y1="188.93" x2="134.50" y2="188.93" stroke="#222" stroke-width="1.3"/>
<line x1="123.0" y1="156.10" x2="141.50" y2="156.10" stroke="#000" stroke-width="3.9"/>
<line x1="123.0" y1="123.26" x2="134.50" y2="123.26" stroke="#222" stroke-width="1.3"/>
<line x1="123.0" y1="90.43" x2="134.50" y2="90.43" stroke="#222" stroke-width="1.3"/>
<line x1="123.0" y1="57.60" x2="134.50" y2="57.60" stroke="#222" stroke-width="1.3"/>
<line x1="123.0" y1="24.76" x2="141.50" y2="24.76" stroke="#000" stroke-width="3.9"/>
<line x1="167.07" y1="851.2" x2="167.07" y2="840.20" stroke="#222" stroke-width="1.3"/>
<line x1="211.14" y1="851.2" x2="211.14" y2="840.20" stroke="#222" stroke-width="1.3"/>
<line x1="255.21" y1="851.2" x2="255.21" y2="840.20" stroke="#222" stroke-width="1.3"/>
<line x1="299.28" y1="851.2" x2="299.28" y2="840.20" stroke="#222" stroke-width="1.3"/>
<line x1="343.35" y1="851.2" x2="343.35" y2="832.50" stroke="#000" stroke-width="3.9"/>
<line x1="387.42" y1="851.2" x2="387.42" y2="840.20" stroke="#222" stroke-width="1.3"/>
<line x1="431.49" y1="851.2" x2="431.49" y2="840.20" stroke="#222" stroke-width="1.3"/>
<line x1="475.56" y1="851.2" x2="475.56" y2="840.20" stroke="#222" stroke-width="1.3"/>
<line x1="519.63" y1="851.2" x2="519.63" y2="840.20" stroke="#222" stroke-width="1.3"/>
<line x1="563.70" y1="851.2" x2="563.70" y2="832.50" stroke="#000" stroke-width="3.9"/>
<line x1="607.77" y1="851.2" x2="607.77" y2="840.20" stroke="#222" stroke-width="1.3"/>
<line x1="651.84" y1="851.2" x2="651.84" y2="840.20" stroke="#222" stroke-width="1.3"/>
<line x1="695.91" y1="851.2" x2="695.91" y2="840.20" stroke="#222" stroke-width="1.3"/>
<line x1="739.98" y1="851.2" x2="739.98" y2="840.20" stroke="#222" stroke-width="1.3"/>
<line x1="784.05" y1="851.2" x2="784.05" y2="832.50" stroke="#000" stroke-width="3.9"/>
<line x1="828.12" y1="851.2" x2="828.12" y2="840.20" stroke="#222" stroke-width="1.3"/>
<line x1="872.19" y1="851.2" x2="872.19" y2="840.20" stroke="#222" stroke-width="1.3"/>
<line x1="916.26" y1="851.2" x2="916.26" y2="840.20" stroke="#222" stroke-width="1.3"/>
<line x1="960.33" y1="851.2" x2="960.33" y2="840.20" stroke="#222" stroke-width="1.3"/>
<!-- frame -->
<rect x="123.0" y="18.0" width="881.40" height="833.20" fill="none" stroke="#000" stroke-width="3.9"/>
<!-- labels -->
<text transform="translate(111.5,822.20) scale(1,1.05)" text-anchor="end" class="tl">0</text>
<text transform="translate(111.5,690.86) scale(1,1.05)" text-anchor="end" class="tl">200</text>
<text transform="translate(111.5,559.52) scale(1,1.05)" text-anchor="end" class="tl">400</text>
<text transform="translate(111.5,428.18) scale(1,1.05)" text-anchor="end" class="tl">600</text>
<text transform="translate(111.5,296.84) scale(1,1.05)" text-anchor="end" class="tl">800</text>
<text transform="translate(111.5,165.50) scale(1,1.05)" text-anchor="end" class="tl">1000</text>
<text transform="translate(111.5,34.16) scale(1,1.05)" text-anchor="end" class="tl">1200</text>
<text transform="translate(123.00,879.5) scale(1,1.05)" text-anchor="middle" class="tl">0</text>
<text transform="translate(343.35,879.5) scale(1,1.05)" text-anchor="middle" class="tl">0.5</text>
<text transform="translate(563.70,879.5) scale(1,1.05)" text-anchor="middle" class="tl">1</text>
<text transform="translate(784.05,879.5) scale(1,1.05)" text-anchor="middle" class="tl">1.5</text>
<text transform="translate(1003.78,879.5) scale(1,1.05)" text-anchor="middle" class="tl">2</text>
<text transform="translate(562.8,911.8) scale(1,1.025)" text-anchor="middle" class="ax" style="font-size:33.8px">Time (s)</text>
<text transform="translate(38.7,435.2) rotate(-90) scale(1,1.03)" text-anchor="middle" class="ax">Rotational velocity (deg/s)</text>
</svg>
</body>
</html>
